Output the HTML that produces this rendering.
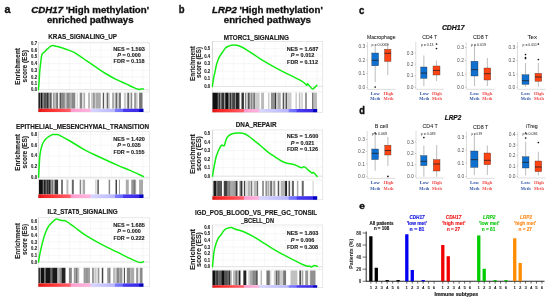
<!DOCTYPE html><html><head><meta charset="utf-8"><style>html,body{margin:0;padding:0;background:#fff;}svg{display:block;will-change:transform;}</style></head><body>
<svg width="550" height="300" viewBox="0 0 550 300" font-family='"Liberation Sans", sans-serif'>
<rect x="0" y="0" width="550" height="300" fill="#fff"/>
<defs>
<linearGradient id="cbA" x1="0" y1="0" x2="1" y2="0">
<stop offset="0" stop-color="#d81010"/><stop offset="0.04" stop-color="#f02020"/>
<stop offset="0.155" stop-color="#ff3838"/><stop offset="0.305" stop-color="#ff6070"/>
<stop offset="0.310" stop-color="#ff9ccc"/><stop offset="0.495" stop-color="#ffb4e0"/>
<stop offset="0.500" stop-color="#d8d6ff"/><stop offset="0.725" stop-color="#b8b6ff"/>
<stop offset="0.730" stop-color="#7c7cff"/><stop offset="0.801" stop-color="#6c6cff"/><stop offset="0.806" stop-color="#4a3cf0"/>
<stop offset="0.955" stop-color="#3a28e6"/><stop offset="0.965" stop-color="#0800c8"/><stop offset="1" stop-color="#0000b8"/>
</linearGradient>
<linearGradient id="cbB" x1="0" y1="0" x2="1" y2="0">
<stop offset="0" stop-color="#d81010"/><stop offset="0.04" stop-color="#f02020"/>
<stop offset="0.152" stop-color="#ff3838"/><stop offset="0.299" stop-color="#ff6070"/>
<stop offset="0.304" stop-color="#ff9ccc"/><stop offset="0.445" stop-color="#ffb4e0"/>
<stop offset="0.450" stop-color="#d8d6ff"/><stop offset="0.725" stop-color="#b8b6ff"/>
<stop offset="0.730" stop-color="#7c7cff"/><stop offset="0.801" stop-color="#6c6cff"/><stop offset="0.806" stop-color="#4a3cf0"/>
<stop offset="0.955" stop-color="#3a28e6"/><stop offset="0.965" stop-color="#0800c8"/><stop offset="1" stop-color="#0000b8"/>
</linearGradient>
</defs>
<text x="7.40" y="12.90" font-size="10.5" fill="#111" text-anchor="middle" font-weight="bold" textLength="6.00" lengthAdjust="spacingAndGlyphs" stroke="#111" stroke-width="0.35">a</text>
<text x="90.15" y="12.9" font-size="8.8" font-weight="bold" fill="#111" stroke="#111" stroke-width="0.3" text-anchor="middle" textLength="117.7" lengthAdjust="spacingAndGlyphs"><tspan font-style="italic">CDH17</tspan> 'High methylation'</text>
<text x="90.25" y="22.90" font-size="8.8" fill="#111" text-anchor="middle" font-weight="bold" textLength="86.50" lengthAdjust="spacingAndGlyphs" stroke="#111" stroke-width="0.3">enriched pathways</text>
<text x="181.60" y="12.90" font-size="10.5" fill="#111" text-anchor="middle" font-weight="bold" textLength="5.80" lengthAdjust="spacingAndGlyphs" stroke="#111" stroke-width="0.35">b</text>
<text x="267.35" y="12.9" font-size="8.8" font-weight="bold" fill="#111" stroke="#111" stroke-width="0.3" text-anchor="middle" textLength="110.7" lengthAdjust="spacingAndGlyphs"><tspan font-style="italic">LRP2</tspan> 'High methylation'</text>
<text x="267.40" y="22.90" font-size="8.8" fill="#111" text-anchor="middle" font-weight="bold" textLength="87.20" lengthAdjust="spacingAndGlyphs" stroke="#111" stroke-width="0.3">enriched pathways</text>
<rect x="38.30" y="42.20" width="111.20" height="69.80" fill="#fff" stroke="#d9d9d9" stroke-width="0.6"/>
<line x1="38.30" y1="43.30" x2="149.50" y2="43.30" stroke="#efefef" stroke-width="0.5"/>
<line x1="38.30" y1="50.00" x2="149.50" y2="50.00" stroke="#efefef" stroke-width="0.5"/>
<line x1="38.30" y1="56.80" x2="149.50" y2="56.80" stroke="#efefef" stroke-width="0.5"/>
<line x1="38.30" y1="63.60" x2="149.50" y2="63.60" stroke="#efefef" stroke-width="0.5"/>
<line x1="38.30" y1="70.30" x2="149.50" y2="70.30" stroke="#efefef" stroke-width="0.5"/>
<line x1="38.30" y1="76.90" x2="149.50" y2="76.90" stroke="#efefef" stroke-width="0.5"/>
<line x1="38.30" y1="83.20" x2="149.50" y2="83.20" stroke="#efefef" stroke-width="0.5"/>
<line x1="38.30" y1="89.70" x2="149.50" y2="89.70" stroke="#efefef" stroke-width="0.5"/>
<line x1="48.75" y1="42.20" x2="48.75" y2="89.70" stroke="#efefef" stroke-width="0.5"/>
<line x1="59.20" y1="42.20" x2="59.20" y2="89.70" stroke="#efefef" stroke-width="0.5"/>
<line x1="69.65" y1="42.20" x2="69.65" y2="89.70" stroke="#efefef" stroke-width="0.5"/>
<line x1="80.10" y1="42.20" x2="80.10" y2="89.70" stroke="#efefef" stroke-width="0.5"/>
<line x1="90.55" y1="42.20" x2="90.55" y2="89.70" stroke="#efefef" stroke-width="0.5"/>
<line x1="101.00" y1="42.20" x2="101.00" y2="89.70" stroke="#efefef" stroke-width="0.5"/>
<line x1="111.45" y1="42.20" x2="111.45" y2="89.70" stroke="#efefef" stroke-width="0.5"/>
<line x1="121.90" y1="42.20" x2="121.90" y2="89.70" stroke="#efefef" stroke-width="0.5"/>
<line x1="132.35" y1="42.20" x2="132.35" y2="89.70" stroke="#efefef" stroke-width="0.5"/>
<line x1="142.80" y1="42.20" x2="142.80" y2="89.70" stroke="#efefef" stroke-width="0.5"/>
<line x1="38.30" y1="42.20" x2="38.30" y2="90.00" stroke="#c8c8c8" stroke-width="0.6"/>
<line x1="38.30" y1="89.70" x2="149.50" y2="89.70" stroke="#d4d4d4" stroke-width="0.6"/>
<line x1="38.30" y1="91.90" x2="149.50" y2="91.90" stroke="#e2e2e2" stroke-width="0.5"/>
<text x="37.00" y="44.90" font-size="4.6" fill="#262626" text-anchor="end" font-weight="bold" textLength="5.90" lengthAdjust="spacingAndGlyphs" stroke="#262626" stroke-width="0.1">0.7</text>
<text x="37.00" y="51.60" font-size="4.6" fill="#262626" text-anchor="end" font-weight="bold" textLength="5.90" lengthAdjust="spacingAndGlyphs" stroke="#262626" stroke-width="0.1">0.6</text>
<text x="37.00" y="58.40" font-size="4.6" fill="#262626" text-anchor="end" font-weight="bold" textLength="5.90" lengthAdjust="spacingAndGlyphs" stroke="#262626" stroke-width="0.1">0.5</text>
<text x="37.00" y="65.20" font-size="4.6" fill="#262626" text-anchor="end" font-weight="bold" textLength="5.90" lengthAdjust="spacingAndGlyphs" stroke="#262626" stroke-width="0.1">0.4</text>
<text x="37.00" y="71.90" font-size="4.6" fill="#262626" text-anchor="end" font-weight="bold" textLength="5.90" lengthAdjust="spacingAndGlyphs" stroke="#262626" stroke-width="0.1">0.3</text>
<text x="37.00" y="78.50" font-size="4.6" fill="#262626" text-anchor="end" font-weight="bold" textLength="5.90" lengthAdjust="spacingAndGlyphs" stroke="#262626" stroke-width="0.1">0.2</text>
<text x="37.00" y="84.80" font-size="4.6" fill="#262626" text-anchor="end" font-weight="bold" textLength="5.90" lengthAdjust="spacingAndGlyphs" stroke="#262626" stroke-width="0.1">0.1</text>
<text x="37.00" y="91.30" font-size="4.6" fill="#262626" text-anchor="end" font-weight="bold" textLength="5.90" lengthAdjust="spacingAndGlyphs" stroke="#262626" stroke-width="0.1">0.0</text>
<rect x="38.47" y="92.70" width="1.47" height="16.00" fill="#111"/>
<rect x="39.94" y="92.70" width="0.79" height="16.00" fill="#888"/>
<rect x="40.73" y="92.70" width="1.96" height="16.00" fill="#111"/>
<rect x="42.69" y="92.70" width="0.69" height="16.00" fill="#888"/>
<rect x="43.38" y="92.70" width="3.43" height="16.00" fill="#555"/>
<rect x="46.81" y="92.70" width="1.96" height="16.00" fill="#333"/>
<rect x="48.78" y="92.70" width="1.47" height="16.00" fill="#999"/>
<rect x="50.25" y="92.70" width="1.47" height="16.00" fill="#333"/>
<rect x="51.72" y="92.70" width="1.47" height="16.00" fill="#eee"/>
<rect x="53.19" y="92.70" width="1.47" height="16.00" fill="#888"/>
<rect x="54.66" y="92.70" width="1.47" height="16.00" fill="#bbb"/>
<rect x="56.14" y="92.70" width="1.96" height="16.00" fill="#777"/>
<rect x="59.57" y="92.70" width="1.47" height="16.00" fill="#555"/>
<rect x="61.04" y="92.70" width="2.94" height="16.00" fill="#888"/>
<rect x="64.00" y="92.70" width="1.47" height="16.00" fill="#999"/>
<rect x="65.47" y="92.70" width="0.98" height="16.00" fill="#bbb"/>
<rect x="66.45" y="92.70" width="3.43" height="16.00" fill="#888"/>
<rect x="69.89" y="92.70" width="1.47" height="16.00" fill="#aaa"/>
<rect x="71.36" y="92.70" width="3.93" height="16.00" fill="#888"/>
<rect x="76.76" y="92.70" width="0.98" height="16.00" fill="#ccc"/>
<rect x="79.70" y="92.70" width="2.45" height="16.00" fill="#888"/>
<rect x="82.16" y="92.70" width="1.47" height="16.00" fill="#ddd"/>
<rect x="83.63" y="92.70" width="1.47" height="16.00" fill="#aaa"/>
<rect x="88.04" y="92.70" width="1.96" height="16.00" fill="#bbb"/>
<rect x="91.00" y="92.70" width="1.96" height="16.00" fill="#ccc"/>
<rect x="92.96" y="92.70" width="1.96" height="16.00" fill="#999"/>
<rect x="94.93" y="92.70" width="0.98" height="16.00" fill="#ccc"/>
<rect x="95.91" y="92.70" width="4.91" height="16.00" fill="#aaa"/>
<rect x="102.78" y="92.70" width="1.47" height="16.00" fill="#555"/>
<rect x="104.25" y="92.70" width="2.45" height="16.00" fill="#eee"/>
<rect x="106.70" y="92.70" width="1.47" height="16.00" fill="#666"/>
<rect x="108.17" y="92.70" width="1.47" height="16.00" fill="#bbb"/>
<rect x="112.10" y="92.70" width="1.96" height="16.00" fill="#aaa"/>
<rect x="114.06" y="92.70" width="1.47" height="16.00" fill="#ddd"/>
<rect x="115.53" y="92.70" width="1.96" height="16.00" fill="#666"/>
<rect x="117.50" y="92.70" width="1.47" height="16.00" fill="#ccc"/>
<rect x="118.97" y="92.70" width="1.96" height="16.00" fill="#777"/>
<rect x="123.88" y="92.70" width="2.45" height="16.00" fill="#ccc"/>
<rect x="127.31" y="92.70" width="1.96" height="16.00" fill="#666"/>
<rect x="129.27" y="92.70" width="1.47" height="16.00" fill="#ddd"/>
<rect x="130.74" y="92.70" width="1.47" height="16.00" fill="#888"/>
<rect x="134.18" y="92.70" width="2.45" height="16.00" fill="#999"/>
<rect x="136.63" y="92.70" width="1.47" height="16.00" fill="#ddd"/>
<rect x="139.09" y="92.70" width="3.43" height="16.00" fill="#777"/>
<rect x="38.30" y="108.70" width="105.20" height="3.30" fill="url(#cbA)"/>
<path d="M38.50,89.70 C38.64,87.76 38.94,83.78 39.20,80.00 C39.46,76.22 39.46,74.60 39.80,70.80 C40.14,67.00 40.46,64.28 40.90,61.00 C41.34,57.72 41.34,56.16 42.00,54.40 C42.66,52.64 43.10,53.30 44.20,52.20 C45.30,51.10 45.98,50.22 47.50,48.90 C49.02,47.58 50.28,46.16 51.80,45.60 C53.32,45.04 53.78,45.88 55.10,46.10 C56.42,46.32 56.22,46.08 58.40,46.70 C60.58,47.32 62.94,48.10 66.00,49.20 C69.06,50.30 70.90,50.80 73.70,52.20 C76.50,53.60 77.38,54.46 80.00,56.20 C82.62,57.94 83.60,58.70 86.80,60.90 C90.00,63.10 92.08,64.58 96.00,67.20 C99.92,69.82 102.40,71.56 106.40,74.00 C110.40,76.44 112.06,77.42 116.00,79.40 C119.94,81.38 122.90,82.42 126.10,83.90 C129.30,85.38 129.60,85.72 132.00,86.80 C134.40,87.88 136.30,88.84 138.10,89.30 C139.90,89.76 139.92,89.18 141.00,89.10 C142.08,89.02 143.00,88.94 143.50,88.90" fill="none" stroke="#12ee12" stroke-width="1.5" stroke-linejoin="round" stroke-linecap="round"/>
<text x="129.05" y="51.00" font-size="5.9" fill="#1e1e1e" text-anchor="middle" font-weight="bold" textLength="31.70" lengthAdjust="spacingAndGlyphs" stroke="#1e1e1e" stroke-width="0.12">NES = 1.593</text>
<text x="129.05" y="57.20" font-size="5.9" font-weight="bold" fill="#1e1e1e" stroke="#1e1e1e" stroke-width="0.12" text-anchor="middle" textLength="23.70" lengthAdjust="spacingAndGlyphs"><tspan style="font-style:italic">P</tspan> = 0.000</text>
<text x="129.05" y="63.30" font-size="5.9" fill="#1e1e1e" text-anchor="middle" font-weight="bold" textLength="30.90" lengthAdjust="spacingAndGlyphs" stroke="#1e1e1e" stroke-width="0.12">FDR = 0.118</text>
<text x="82.65" y="39.40" font-size="6.8" fill="#1a1a1a" text-anchor="middle" font-weight="bold" textLength="68.70" lengthAdjust="spacingAndGlyphs" stroke="#1a1a1a" stroke-width="0.15">KRAS_SIGNALING_UP</text>
<text x="19.50" y="66.50" font-size="6.6" fill="#262626" text-anchor="middle" font-weight="bold" textLength="37.00" lengthAdjust="spacingAndGlyphs" transform="rotate(-90 19.50 66.50)" stroke="#262626" stroke-width="0.12">Enrichment</text>
<text x="26.80" y="66.20" font-size="6.6" fill="#262626" text-anchor="middle" font-weight="bold" textLength="32.40" lengthAdjust="spacingAndGlyphs" transform="rotate(-90 26.80 66.20)" stroke="#262626" stroke-width="0.12">score (ES)</text>
<rect x="38.30" y="131.80" width="111.20" height="66.20" fill="#fff" stroke="#d9d9d9" stroke-width="0.6"/>
<line x1="38.30" y1="134.50" x2="149.50" y2="134.50" stroke="#efefef" stroke-width="0.5"/>
<line x1="38.30" y1="145.20" x2="149.50" y2="145.20" stroke="#efefef" stroke-width="0.5"/>
<line x1="38.30" y1="155.80" x2="149.50" y2="155.80" stroke="#efefef" stroke-width="0.5"/>
<line x1="38.30" y1="166.50" x2="149.50" y2="166.50" stroke="#efefef" stroke-width="0.5"/>
<line x1="38.30" y1="177.30" x2="149.50" y2="177.30" stroke="#efefef" stroke-width="0.5"/>
<line x1="48.75" y1="131.80" x2="48.75" y2="177.30" stroke="#efefef" stroke-width="0.5"/>
<line x1="59.20" y1="131.80" x2="59.20" y2="177.30" stroke="#efefef" stroke-width="0.5"/>
<line x1="69.65" y1="131.80" x2="69.65" y2="177.30" stroke="#efefef" stroke-width="0.5"/>
<line x1="80.10" y1="131.80" x2="80.10" y2="177.30" stroke="#efefef" stroke-width="0.5"/>
<line x1="90.55" y1="131.80" x2="90.55" y2="177.30" stroke="#efefef" stroke-width="0.5"/>
<line x1="101.00" y1="131.80" x2="101.00" y2="177.30" stroke="#efefef" stroke-width="0.5"/>
<line x1="111.45" y1="131.80" x2="111.45" y2="177.30" stroke="#efefef" stroke-width="0.5"/>
<line x1="121.90" y1="131.80" x2="121.90" y2="177.30" stroke="#efefef" stroke-width="0.5"/>
<line x1="132.35" y1="131.80" x2="132.35" y2="177.30" stroke="#efefef" stroke-width="0.5"/>
<line x1="142.80" y1="131.80" x2="142.80" y2="177.30" stroke="#efefef" stroke-width="0.5"/>
<line x1="38.30" y1="131.80" x2="38.30" y2="177.60" stroke="#c8c8c8" stroke-width="0.6"/>
<line x1="38.30" y1="177.30" x2="149.50" y2="177.30" stroke="#d4d4d4" stroke-width="0.6"/>
<line x1="38.30" y1="178.90" x2="149.50" y2="178.90" stroke="#e2e2e2" stroke-width="0.5"/>
<text x="37.00" y="136.10" font-size="4.6" fill="#262626" text-anchor="end" font-weight="bold" textLength="5.90" lengthAdjust="spacingAndGlyphs" stroke="#262626" stroke-width="0.1">0.8</text>
<text x="37.00" y="146.80" font-size="4.6" fill="#262626" text-anchor="end" font-weight="bold" textLength="5.90" lengthAdjust="spacingAndGlyphs" stroke="#262626" stroke-width="0.1">0.6</text>
<text x="37.00" y="157.40" font-size="4.6" fill="#262626" text-anchor="end" font-weight="bold" textLength="5.90" lengthAdjust="spacingAndGlyphs" stroke="#262626" stroke-width="0.1">0.4</text>
<text x="37.00" y="168.10" font-size="4.6" fill="#262626" text-anchor="end" font-weight="bold" textLength="5.90" lengthAdjust="spacingAndGlyphs" stroke="#262626" stroke-width="0.1">0.2</text>
<text x="37.00" y="178.90" font-size="4.6" fill="#262626" text-anchor="end" font-weight="bold" textLength="5.90" lengthAdjust="spacingAndGlyphs" stroke="#262626" stroke-width="0.1">0.0</text>
<rect x="38.96" y="179.70" width="3.93" height="14.70" fill="#111"/>
<rect x="42.89" y="179.70" width="0.98" height="14.70" fill="#666"/>
<rect x="43.87" y="179.70" width="1.96" height="14.70" fill="#222"/>
<rect x="45.83" y="179.70" width="0.98" height="14.70" fill="#555"/>
<rect x="46.81" y="179.70" width="1.96" height="14.70" fill="#333"/>
<rect x="48.78" y="179.70" width="1.96" height="14.70" fill="#222"/>
<rect x="50.74" y="179.70" width="0.98" height="14.70" fill="#888"/>
<rect x="51.72" y="179.70" width="1.47" height="14.70" fill="#777"/>
<rect x="53.19" y="179.70" width="1.47" height="14.70" fill="#aaa"/>
<rect x="54.66" y="179.70" width="3.43" height="14.70" fill="#333"/>
<rect x="61.04" y="179.70" width="1.96" height="14.70" fill="#777"/>
<rect x="66.44" y="179.70" width="1.96" height="14.70" fill="#bbb"/>
<rect x="71.84" y="179.70" width="1.96" height="14.70" fill="#666"/>
<rect x="79.69" y="179.70" width="1.47" height="14.70" fill="#888"/>
<rect x="82.63" y="179.70" width="2.45" height="14.70" fill="#aaa"/>
<rect x="95.40" y="179.70" width="0.98" height="14.70" fill="#bbb"/>
<rect x="97.36" y="179.70" width="1.47" height="14.70" fill="#555"/>
<rect x="108.65" y="179.70" width="1.47" height="14.70" fill="#888"/>
<rect x="115.52" y="179.70" width="1.47" height="14.70" fill="#444"/>
<rect x="118.95" y="179.70" width="0.98" height="14.70" fill="#999"/>
<rect x="125.82" y="179.70" width="2.94" height="14.70" fill="#aaa"/>
<rect x="131.22" y="179.70" width="1.96" height="14.70" fill="#999"/>
<rect x="133.18" y="179.70" width="1.96" height="14.70" fill="#777"/>
<rect x="135.14" y="179.70" width="0.98" height="14.70" fill="#999"/>
<rect x="139.07" y="179.70" width="3.93" height="14.70" fill="#aaa"/>
<rect x="38.30" y="194.40" width="105.20" height="3.60" fill="url(#cbA)"/>
<path d="M38.60,177.30 C38.72,175.04 38.96,170.18 39.20,166.00 C39.44,161.82 39.48,159.60 39.80,156.40 C40.12,153.20 40.36,152.18 40.80,150.00 C41.24,147.82 41.46,147.10 42.00,145.50 C42.54,143.90 42.84,143.22 43.50,142.00 C44.16,140.78 44.52,140.30 45.30,139.40 C46.08,138.50 46.52,138.16 47.40,137.50 C48.28,136.84 48.60,136.68 49.70,136.10 C50.80,135.52 51.38,134.90 52.90,134.60 C54.42,134.30 55.88,134.40 57.30,134.60 C58.72,134.80 57.46,134.32 60.00,135.60 C62.54,136.88 65.08,138.16 70.00,141.00 C74.92,143.84 78.60,146.56 84.60,149.80 C90.60,153.04 93.46,154.14 100.00,157.20 C106.54,160.26 111.30,162.46 117.30,165.10 C123.30,167.74 124.76,168.10 130.00,170.40 C135.24,172.70 140.80,175.36 143.50,176.60" fill="none" stroke="#12ee12" stroke-width="1.5" stroke-linejoin="round" stroke-linecap="round"/>
<text x="129.05" y="140.50" font-size="5.9" fill="#1e1e1e" text-anchor="middle" font-weight="bold" textLength="31.70" lengthAdjust="spacingAndGlyphs" stroke="#1e1e1e" stroke-width="0.12">NES = 1.420</text>
<text x="129.05" y="147.10" font-size="5.9" font-weight="bold" fill="#1e1e1e" stroke="#1e1e1e" stroke-width="0.12" text-anchor="middle" textLength="23.70" lengthAdjust="spacingAndGlyphs"><tspan style="font-style:italic">P</tspan> = 0.035</text>
<text x="129.05" y="153.50" font-size="5.9" fill="#1e1e1e" text-anchor="middle" font-weight="bold" textLength="30.90" lengthAdjust="spacingAndGlyphs" stroke="#1e1e1e" stroke-width="0.12">FDR = 0.155</text>
<text x="82.50" y="128.80" font-size="6.8" fill="#1a1a1a" text-anchor="middle" font-weight="bold" textLength="133.00" lengthAdjust="spacingAndGlyphs" stroke="#1a1a1a" stroke-width="0.15">EPITHELIAL_MESENCHYMAL_TRANSITION</text>
<text x="19.50" y="152.50" font-size="6.6" fill="#262626" text-anchor="middle" font-weight="bold" textLength="37.00" lengthAdjust="spacingAndGlyphs" transform="rotate(-90 19.50 152.50)" stroke="#262626" stroke-width="0.12">Enrichment</text>
<text x="26.80" y="152.20" font-size="6.6" fill="#262626" text-anchor="middle" font-weight="bold" textLength="32.40" lengthAdjust="spacingAndGlyphs" transform="rotate(-90 26.80 152.20)" stroke="#262626" stroke-width="0.12">score (ES)</text>
<rect x="38.30" y="217.80" width="111.20" height="69.00" fill="#fff" stroke="#d9d9d9" stroke-width="0.6"/>
<line x1="38.30" y1="221.80" x2="149.50" y2="221.80" stroke="#efefef" stroke-width="0.5"/>
<line x1="38.30" y1="228.50" x2="149.50" y2="228.50" stroke="#efefef" stroke-width="0.5"/>
<line x1="38.30" y1="235.20" x2="149.50" y2="235.20" stroke="#efefef" stroke-width="0.5"/>
<line x1="38.30" y1="241.90" x2="149.50" y2="241.90" stroke="#efefef" stroke-width="0.5"/>
<line x1="38.30" y1="248.60" x2="149.50" y2="248.60" stroke="#efefef" stroke-width="0.5"/>
<line x1="38.30" y1="255.30" x2="149.50" y2="255.30" stroke="#efefef" stroke-width="0.5"/>
<line x1="38.30" y1="262.00" x2="149.50" y2="262.00" stroke="#efefef" stroke-width="0.5"/>
<line x1="48.75" y1="217.80" x2="48.75" y2="262.00" stroke="#efefef" stroke-width="0.5"/>
<line x1="59.20" y1="217.80" x2="59.20" y2="262.00" stroke="#efefef" stroke-width="0.5"/>
<line x1="69.65" y1="217.80" x2="69.65" y2="262.00" stroke="#efefef" stroke-width="0.5"/>
<line x1="80.10" y1="217.80" x2="80.10" y2="262.00" stroke="#efefef" stroke-width="0.5"/>
<line x1="90.55" y1="217.80" x2="90.55" y2="262.00" stroke="#efefef" stroke-width="0.5"/>
<line x1="101.00" y1="217.80" x2="101.00" y2="262.00" stroke="#efefef" stroke-width="0.5"/>
<line x1="111.45" y1="217.80" x2="111.45" y2="262.00" stroke="#efefef" stroke-width="0.5"/>
<line x1="121.90" y1="217.80" x2="121.90" y2="262.00" stroke="#efefef" stroke-width="0.5"/>
<line x1="132.35" y1="217.80" x2="132.35" y2="262.00" stroke="#efefef" stroke-width="0.5"/>
<line x1="142.80" y1="217.80" x2="142.80" y2="262.00" stroke="#efefef" stroke-width="0.5"/>
<line x1="38.30" y1="217.80" x2="38.30" y2="262.30" stroke="#c8c8c8" stroke-width="0.6"/>
<line x1="38.30" y1="262.00" x2="149.50" y2="262.00" stroke="#d4d4d4" stroke-width="0.6"/>
<line x1="38.30" y1="267.00" x2="149.50" y2="267.00" stroke="#e2e2e2" stroke-width="0.5"/>
<text x="37.00" y="223.40" font-size="4.6" fill="#262626" text-anchor="end" font-weight="bold" textLength="5.90" lengthAdjust="spacingAndGlyphs" stroke="#262626" stroke-width="0.1">0.6</text>
<text x="37.00" y="230.10" font-size="4.6" fill="#262626" text-anchor="end" font-weight="bold" textLength="5.90" lengthAdjust="spacingAndGlyphs" stroke="#262626" stroke-width="0.1">0.5</text>
<text x="37.00" y="236.80" font-size="4.6" fill="#262626" text-anchor="end" font-weight="bold" textLength="5.90" lengthAdjust="spacingAndGlyphs" stroke="#262626" stroke-width="0.1">0.4</text>
<text x="37.00" y="243.50" font-size="4.6" fill="#262626" text-anchor="end" font-weight="bold" textLength="5.90" lengthAdjust="spacingAndGlyphs" stroke="#262626" stroke-width="0.1">0.3</text>
<text x="37.00" y="250.20" font-size="4.6" fill="#262626" text-anchor="end" font-weight="bold" textLength="5.90" lengthAdjust="spacingAndGlyphs" stroke="#262626" stroke-width="0.1">0.2</text>
<text x="37.00" y="256.90" font-size="4.6" fill="#262626" text-anchor="end" font-weight="bold" textLength="5.90" lengthAdjust="spacingAndGlyphs" stroke="#262626" stroke-width="0.1">0.1</text>
<text x="37.00" y="263.60" font-size="4.6" fill="#262626" text-anchor="end" font-weight="bold" textLength="5.90" lengthAdjust="spacingAndGlyphs" stroke="#262626" stroke-width="0.1">0.0</text>
<rect x="38.47" y="267.80" width="1.47" height="15.60" fill="#222"/>
<rect x="39.94" y="267.80" width="0.98" height="15.60" fill="#888"/>
<rect x="40.93" y="267.80" width="3.43" height="15.60" fill="#111"/>
<rect x="44.36" y="267.80" width="1.47" height="15.60" fill="#555"/>
<rect x="45.83" y="267.80" width="4.91" height="15.60" fill="#161616"/>
<rect x="50.74" y="267.80" width="1.47" height="15.60" fill="#666"/>
<rect x="52.21" y="267.80" width="4.91" height="15.60" fill="#1a1a1a"/>
<rect x="57.12" y="267.80" width="1.47" height="15.60" fill="#999"/>
<rect x="58.59" y="267.80" width="1.47" height="15.60" fill="#aaa"/>
<rect x="60.06" y="267.80" width="1.47" height="15.60" fill="#888"/>
<rect x="61.53" y="267.80" width="3.93" height="15.60" fill="#222"/>
<rect x="68.89" y="267.80" width="2.94" height="15.60" fill="#888"/>
<rect x="73.80" y="267.80" width="1.96" height="15.60" fill="#999"/>
<rect x="75.76" y="267.80" width="1.96" height="15.60" fill="#777"/>
<rect x="77.73" y="267.80" width="1.47" height="15.60" fill="#bbb"/>
<rect x="83.61" y="267.80" width="1.47" height="15.60" fill="#999"/>
<rect x="85.09" y="267.80" width="2.94" height="15.60" fill="#959595"/>
<rect x="88.03" y="267.80" width="1.96" height="15.60" fill="#a0a0a0"/>
<rect x="91.98" y="267.80" width="1.96" height="15.60" fill="#999"/>
<rect x="93.94" y="267.80" width="1.47" height="15.60" fill="#ddd"/>
<rect x="95.42" y="267.80" width="0.98" height="15.60" fill="#aaa"/>
<rect x="96.40" y="267.80" width="1.47" height="15.60" fill="#ddd"/>
<rect x="97.87" y="267.80" width="1.47" height="15.60" fill="#999"/>
<rect x="101.79" y="267.80" width="1.47" height="15.60" fill="#444"/>
<rect x="107.19" y="267.80" width="0.98" height="15.60" fill="#999"/>
<rect x="108.17" y="267.80" width="1.96" height="15.60" fill="#888"/>
<rect x="110.14" y="267.80" width="0.49" height="15.60" fill="#999"/>
<rect x="113.08" y="267.80" width="1.96" height="15.60" fill="#bbb"/>
<rect x="115.04" y="267.80" width="1.47" height="15.60" fill="#ccc"/>
<rect x="116.52" y="267.80" width="2.94" height="15.60" fill="#888"/>
<rect x="119.46" y="267.80" width="2.94" height="15.60" fill="#999"/>
<rect x="123.88" y="267.80" width="0.98" height="15.60" fill="#333"/>
<rect x="126.82" y="267.80" width="3.43" height="15.60" fill="#888"/>
<rect x="130.25" y="267.80" width="3.93" height="15.60" fill="#aaa"/>
<rect x="136.14" y="267.80" width="1.96" height="15.60" fill="#999"/>
<rect x="138.11" y="267.80" width="1.96" height="15.60" fill="#ddd"/>
<rect x="140.07" y="267.80" width="2.45" height="15.60" fill="#888"/>
<rect x="38.30" y="283.40" width="105.20" height="3.40" fill="url(#cbA)"/>
<path d="M38.50,262.00 C38.76,260.48 39.22,257.40 39.80,254.40 C40.38,251.40 40.74,249.84 41.40,247.00 C42.06,244.16 42.34,242.90 43.10,240.20 C43.86,237.50 44.32,235.90 45.20,233.50 C46.08,231.10 46.62,229.90 47.50,228.20 C48.38,226.50 48.74,226.10 49.60,225.00 C50.46,223.90 50.92,223.58 51.80,222.70 C52.68,221.82 53.04,221.34 54.00,220.60 C54.96,219.86 55.50,219.12 56.60,219.00 C57.70,218.88 58.26,219.68 59.50,220.00 C60.74,220.32 61.50,220.36 62.80,220.60 C64.10,220.84 63.56,219.82 66.00,221.20 C68.44,222.58 71.28,224.80 75.00,227.50 C78.72,230.20 79.60,231.48 84.60,234.70 C89.60,237.92 93.46,240.10 100.00,243.60 C106.54,247.10 111.70,249.40 117.30,252.20 C122.90,255.00 124.06,255.72 128.00,257.60 C131.94,259.48 134.32,260.62 137.00,261.60 C139.68,262.58 140.10,262.50 141.40,262.50 C142.70,262.50 143.08,261.78 143.50,261.60" fill="none" stroke="#12ee12" stroke-width="1.5" stroke-linejoin="round" stroke-linecap="round"/>
<text x="129.05" y="226.80" font-size="5.9" fill="#1e1e1e" text-anchor="middle" font-weight="bold" textLength="31.70" lengthAdjust="spacingAndGlyphs" stroke="#1e1e1e" stroke-width="0.12">NES = 1.685</text>
<text x="129.05" y="233.40" font-size="5.9" font-weight="bold" fill="#1e1e1e" stroke="#1e1e1e" stroke-width="0.12" text-anchor="middle" textLength="23.70" lengthAdjust="spacingAndGlyphs"><tspan style="font-style:italic">P</tspan> = 0.000</text>
<text x="129.05" y="240.00" font-size="5.9" fill="#1e1e1e" text-anchor="middle" font-weight="bold" textLength="30.90" lengthAdjust="spacingAndGlyphs" stroke="#1e1e1e" stroke-width="0.12">FDR = 0.222</text>
<text x="82.60" y="213.80" font-size="6.8" fill="#1a1a1a" text-anchor="middle" font-weight="bold" textLength="70.00" lengthAdjust="spacingAndGlyphs" stroke="#1a1a1a" stroke-width="0.15">IL2_STAT5_SIGNALING</text>
<text x="19.50" y="241.00" font-size="6.6" fill="#262626" text-anchor="middle" font-weight="bold" textLength="36.00" lengthAdjust="spacingAndGlyphs" transform="rotate(-90 19.50 241.00)" stroke="#262626" stroke-width="0.12">Enrichment</text>
<text x="26.80" y="239.50" font-size="6.6" fill="#262626" text-anchor="middle" font-weight="bold" textLength="31.00" lengthAdjust="spacingAndGlyphs" transform="rotate(-90 26.80 239.50)" stroke="#262626" stroke-width="0.12">score (ES)</text>
<rect x="212.40" y="41.60" width="110.40" height="70.70" fill="#fff" stroke="#d9d9d9" stroke-width="0.6"/>
<line x1="212.40" y1="48.40" x2="322.80" y2="48.40" stroke="#efefef" stroke-width="0.5"/>
<line x1="212.40" y1="56.00" x2="322.80" y2="56.00" stroke="#efefef" stroke-width="0.5"/>
<line x1="212.40" y1="63.60" x2="322.80" y2="63.60" stroke="#efefef" stroke-width="0.5"/>
<line x1="212.40" y1="71.20" x2="322.80" y2="71.20" stroke="#efefef" stroke-width="0.5"/>
<line x1="212.40" y1="78.80" x2="322.80" y2="78.80" stroke="#efefef" stroke-width="0.5"/>
<line x1="212.40" y1="86.40" x2="322.80" y2="86.40" stroke="#efefef" stroke-width="0.5"/>
<line x1="222.85" y1="41.60" x2="222.85" y2="86.40" stroke="#efefef" stroke-width="0.5"/>
<line x1="233.30" y1="41.60" x2="233.30" y2="86.40" stroke="#efefef" stroke-width="0.5"/>
<line x1="243.75" y1="41.60" x2="243.75" y2="86.40" stroke="#efefef" stroke-width="0.5"/>
<line x1="254.20" y1="41.60" x2="254.20" y2="86.40" stroke="#efefef" stroke-width="0.5"/>
<line x1="264.65" y1="41.60" x2="264.65" y2="86.40" stroke="#efefef" stroke-width="0.5"/>
<line x1="275.10" y1="41.60" x2="275.10" y2="86.40" stroke="#efefef" stroke-width="0.5"/>
<line x1="285.55" y1="41.60" x2="285.55" y2="86.40" stroke="#efefef" stroke-width="0.5"/>
<line x1="296.00" y1="41.60" x2="296.00" y2="86.40" stroke="#efefef" stroke-width="0.5"/>
<line x1="306.45" y1="41.60" x2="306.45" y2="86.40" stroke="#efefef" stroke-width="0.5"/>
<line x1="316.90" y1="41.60" x2="316.90" y2="86.40" stroke="#efefef" stroke-width="0.5"/>
<line x1="212.40" y1="41.60" x2="212.40" y2="86.70" stroke="#c8c8c8" stroke-width="0.6"/>
<line x1="212.40" y1="86.40" x2="322.80" y2="86.40" stroke="#d4d4d4" stroke-width="0.6"/>
<line x1="212.40" y1="91.90" x2="322.80" y2="91.90" stroke="#e2e2e2" stroke-width="0.5"/>
<text x="210.10" y="50.00" font-size="4.6" fill="#262626" text-anchor="end" font-weight="bold" textLength="5.90" lengthAdjust="spacingAndGlyphs" stroke="#262626" stroke-width="0.1">0.5</text>
<text x="210.10" y="57.60" font-size="4.6" fill="#262626" text-anchor="end" font-weight="bold" textLength="5.90" lengthAdjust="spacingAndGlyphs" stroke="#262626" stroke-width="0.1">0.4</text>
<text x="210.10" y="65.20" font-size="4.6" fill="#262626" text-anchor="end" font-weight="bold" textLength="5.90" lengthAdjust="spacingAndGlyphs" stroke="#262626" stroke-width="0.1">0.3</text>
<text x="210.10" y="72.80" font-size="4.6" fill="#262626" text-anchor="end" font-weight="bold" textLength="5.90" lengthAdjust="spacingAndGlyphs" stroke="#262626" stroke-width="0.1">0.2</text>
<text x="210.10" y="80.40" font-size="4.6" fill="#262626" text-anchor="end" font-weight="bold" textLength="5.90" lengthAdjust="spacingAndGlyphs" stroke="#262626" stroke-width="0.1">0.1</text>
<text x="210.10" y="88.00" font-size="4.6" fill="#262626" text-anchor="end" font-weight="bold" textLength="5.90" lengthAdjust="spacingAndGlyphs" stroke="#262626" stroke-width="0.1">0.0</text>
<rect x="212.47" y="92.70" width="5.40" height="16.30" fill="#111"/>
<rect x="217.87" y="92.70" width="0.98" height="16.30" fill="#666"/>
<rect x="218.85" y="92.70" width="1.47" height="16.30" fill="#333"/>
<rect x="220.32" y="92.70" width="0.98" height="16.30" fill="#777"/>
<rect x="221.30" y="92.70" width="2.94" height="16.30" fill="#333"/>
<rect x="224.25" y="92.70" width="0.98" height="16.30" fill="#888"/>
<rect x="225.23" y="92.70" width="3.43" height="16.30" fill="#111"/>
<rect x="228.66" y="92.70" width="0.98" height="16.30" fill="#777"/>
<rect x="229.65" y="92.70" width="1.47" height="16.30" fill="#333"/>
<rect x="231.12" y="92.70" width="0.98" height="16.30" fill="#777"/>
<rect x="232.10" y="92.70" width="2.94" height="16.30" fill="#444"/>
<rect x="235.04" y="92.70" width="0.98" height="16.30" fill="#888"/>
<rect x="236.02" y="92.70" width="2.94" height="16.30" fill="#222"/>
<rect x="238.97" y="92.70" width="1.08" height="16.30" fill="#999"/>
<rect x="241.47" y="92.70" width="2.45" height="16.30" fill="#333"/>
<rect x="244.91" y="92.70" width="1.47" height="16.30" fill="#888"/>
<rect x="246.38" y="92.70" width="1.47" height="16.30" fill="#ccc"/>
<rect x="247.85" y="92.70" width="1.96" height="16.30" fill="#555"/>
<rect x="249.81" y="92.70" width="0.98" height="16.30" fill="#bbb"/>
<rect x="250.79" y="92.70" width="1.47" height="16.30" fill="#888"/>
<rect x="252.27" y="92.70" width="0.98" height="16.30" fill="#aaa"/>
<rect x="253.25" y="92.70" width="1.96" height="16.30" fill="#777"/>
<rect x="255.21" y="92.70" width="4.42" height="16.30" fill="#ccc"/>
<rect x="261.10" y="92.70" width="2.94" height="16.30" fill="#bbb"/>
<rect x="267.96" y="92.70" width="1.47" height="16.30" fill="#ccc"/>
<rect x="270.91" y="92.70" width="3.93" height="16.30" fill="#909090"/>
<rect x="274.83" y="92.70" width="1.47" height="16.30" fill="#333"/>
<rect x="276.30" y="92.70" width="1.47" height="16.30" fill="#ccc"/>
<rect x="277.78" y="92.70" width="2.94" height="16.30" fill="#aaa"/>
<rect x="282.68" y="92.70" width="1.47" height="16.30" fill="#555"/>
<rect x="284.16" y="92.70" width="1.47" height="16.30" fill="#ccc"/>
<rect x="285.63" y="92.70" width="1.47" height="16.30" fill="#555"/>
<rect x="287.10" y="92.70" width="4.42" height="16.30" fill="#ccc"/>
<rect x="295.44" y="92.70" width="1.47" height="16.30" fill="#ccc"/>
<rect x="298.88" y="92.70" width="1.47" height="16.30" fill="#bbb"/>
<rect x="301.33" y="92.70" width="1.47" height="16.30" fill="#ccc"/>
<rect x="305.25" y="92.70" width="1.47" height="16.30" fill="#777"/>
<rect x="312.12" y="92.70" width="1.47" height="16.30" fill="#666"/>
<rect x="313.60" y="92.70" width="3.43" height="16.30" fill="#bbb"/>
<rect x="212.40" y="109.00" width="104.80" height="3.30" fill="url(#cbB)"/>
<path d="M212.40,86.40 C212.64,84.72 213.12,80.70 213.60,78.00 C214.08,75.30 214.26,75.40 214.80,72.90 C215.34,70.40 215.64,68.12 216.30,65.50 C216.96,62.88 217.32,61.78 218.10,59.80 C218.88,57.82 219.32,57.12 220.20,55.60 C221.08,54.08 221.40,53.76 222.50,52.20 C223.60,50.64 224.50,49.00 225.70,47.80 C226.90,46.60 226.96,46.76 228.50,46.20 C230.04,45.64 231.10,44.98 233.40,45.00 C235.70,45.02 236.94,45.08 240.00,46.30 C243.06,47.52 244.34,48.40 248.70,51.10 C253.06,53.80 255.26,55.86 261.80,59.80 C268.34,63.74 273.56,66.64 281.40,70.80 C289.24,74.96 295.98,77.76 301.00,80.60 C306.02,83.44 305.18,84.34 306.50,85.00 C307.82,85.66 306.50,83.16 307.60,83.90 C308.70,84.64 310.72,87.84 312.00,88.70 C313.28,89.56 313.04,88.86 314.00,88.20 C314.96,87.54 316.24,85.96 316.80,85.40" fill="none" stroke="#12ee12" stroke-width="1.5" stroke-linejoin="round" stroke-linecap="round"/>
<text x="302.50" y="50.50" font-size="5.9" fill="#1e1e1e" text-anchor="middle" font-weight="bold" textLength="31.70" lengthAdjust="spacingAndGlyphs" stroke="#1e1e1e" stroke-width="0.12">NES = 1.687</text>
<text x="302.50" y="57.10" font-size="5.9" font-weight="bold" fill="#1e1e1e" stroke="#1e1e1e" stroke-width="0.12" text-anchor="middle" textLength="23.70" lengthAdjust="spacingAndGlyphs"><tspan style="font-style:italic">P</tspan> = 0.012</text>
<text x="302.50" y="63.50" font-size="5.9" fill="#1e1e1e" text-anchor="middle" font-weight="bold" textLength="30.90" lengthAdjust="spacingAndGlyphs" stroke="#1e1e1e" stroke-width="0.12">FDR = 0.112</text>
<text x="256.40" y="39.60" font-size="6.8" fill="#1a1a1a" text-anchor="middle" font-weight="bold" textLength="65.20" lengthAdjust="spacingAndGlyphs" stroke="#1a1a1a" stroke-width="0.15">MTORC1_SIGNALING</text>
<text x="194.50" y="63.50" font-size="6.6" fill="#262626" text-anchor="middle" font-weight="bold" textLength="35.00" lengthAdjust="spacingAndGlyphs" transform="rotate(-90 194.50 63.50)" stroke="#262626" stroke-width="0.12">Enrichment</text>
<text x="201.40" y="62.50" font-size="6.6" fill="#262626" text-anchor="middle" font-weight="bold" textLength="31.00" lengthAdjust="spacingAndGlyphs" transform="rotate(-90 201.40 62.50)" stroke="#262626" stroke-width="0.12">score (ES)</text>
<rect x="212.40" y="130.00" width="110.40" height="69.80" fill="#fff" stroke="#d9d9d9" stroke-width="0.6"/>
<line x1="212.40" y1="133.40" x2="322.80" y2="133.40" stroke="#efefef" stroke-width="0.5"/>
<line x1="212.40" y1="142.00" x2="322.80" y2="142.00" stroke="#efefef" stroke-width="0.5"/>
<line x1="212.40" y1="150.50" x2="322.80" y2="150.50" stroke="#efefef" stroke-width="0.5"/>
<line x1="212.40" y1="159.10" x2="322.80" y2="159.10" stroke="#efefef" stroke-width="0.5"/>
<line x1="212.40" y1="167.60" x2="322.80" y2="167.60" stroke="#efefef" stroke-width="0.5"/>
<line x1="212.40" y1="176.20" x2="322.80" y2="176.20" stroke="#efefef" stroke-width="0.5"/>
<line x1="222.85" y1="130.00" x2="222.85" y2="176.20" stroke="#efefef" stroke-width="0.5"/>
<line x1="233.30" y1="130.00" x2="233.30" y2="176.20" stroke="#efefef" stroke-width="0.5"/>
<line x1="243.75" y1="130.00" x2="243.75" y2="176.20" stroke="#efefef" stroke-width="0.5"/>
<line x1="254.20" y1="130.00" x2="254.20" y2="176.20" stroke="#efefef" stroke-width="0.5"/>
<line x1="264.65" y1="130.00" x2="264.65" y2="176.20" stroke="#efefef" stroke-width="0.5"/>
<line x1="275.10" y1="130.00" x2="275.10" y2="176.20" stroke="#efefef" stroke-width="0.5"/>
<line x1="285.55" y1="130.00" x2="285.55" y2="176.20" stroke="#efefef" stroke-width="0.5"/>
<line x1="296.00" y1="130.00" x2="296.00" y2="176.20" stroke="#efefef" stroke-width="0.5"/>
<line x1="306.45" y1="130.00" x2="306.45" y2="176.20" stroke="#efefef" stroke-width="0.5"/>
<line x1="316.90" y1="130.00" x2="316.90" y2="176.20" stroke="#efefef" stroke-width="0.5"/>
<line x1="212.40" y1="130.00" x2="212.40" y2="176.50" stroke="#c8c8c8" stroke-width="0.6"/>
<line x1="212.40" y1="176.20" x2="322.80" y2="176.20" stroke="#d4d4d4" stroke-width="0.6"/>
<line x1="212.40" y1="180.10" x2="322.80" y2="180.10" stroke="#e2e2e2" stroke-width="0.5"/>
<text x="210.10" y="135.00" font-size="4.6" fill="#262626" text-anchor="end" font-weight="bold" textLength="5.90" lengthAdjust="spacingAndGlyphs" stroke="#262626" stroke-width="0.1">0.5</text>
<text x="210.10" y="143.60" font-size="4.6" fill="#262626" text-anchor="end" font-weight="bold" textLength="5.90" lengthAdjust="spacingAndGlyphs" stroke="#262626" stroke-width="0.1">0.4</text>
<text x="210.10" y="152.10" font-size="4.6" fill="#262626" text-anchor="end" font-weight="bold" textLength="5.90" lengthAdjust="spacingAndGlyphs" stroke="#262626" stroke-width="0.1">0.3</text>
<text x="210.10" y="160.70" font-size="4.6" fill="#262626" text-anchor="end" font-weight="bold" textLength="5.90" lengthAdjust="spacingAndGlyphs" stroke="#262626" stroke-width="0.1">0.2</text>
<text x="210.10" y="169.20" font-size="4.6" fill="#262626" text-anchor="end" font-weight="bold" textLength="5.90" lengthAdjust="spacingAndGlyphs" stroke="#262626" stroke-width="0.1">0.1</text>
<text x="210.10" y="177.80" font-size="4.6" fill="#262626" text-anchor="end" font-weight="bold" textLength="5.90" lengthAdjust="spacingAndGlyphs" stroke="#262626" stroke-width="0.1">0.0</text>
<rect x="212.96" y="180.90" width="0.98" height="15.30" fill="#777"/>
<rect x="213.94" y="180.90" width="2.45" height="15.30" fill="#1a1a1a"/>
<rect x="216.40" y="180.90" width="0.98" height="15.30" fill="#666"/>
<rect x="217.38" y="180.90" width="1.47" height="15.30" fill="#333"/>
<rect x="218.85" y="180.90" width="1.47" height="15.30" fill="#555"/>
<rect x="220.32" y="180.90" width="1.47" height="15.30" fill="#222"/>
<rect x="223.76" y="180.90" width="3.93" height="15.30" fill="#404040"/>
<rect x="227.68" y="180.90" width="1.47" height="15.30" fill="#888"/>
<rect x="229.16" y="180.90" width="1.47" height="15.30" fill="#666"/>
<rect x="230.63" y="180.90" width="1.47" height="15.30" fill="#aaa"/>
<rect x="232.10" y="180.90" width="3.43" height="15.30" fill="#a0a0a0"/>
<rect x="235.53" y="180.90" width="1.96" height="15.30" fill="#333"/>
<rect x="239.46" y="180.90" width="0.98" height="15.30" fill="#888"/>
<rect x="240.44" y="180.90" width="1.96" height="15.30" fill="#333"/>
<rect x="243.88" y="180.90" width="1.47" height="15.30" fill="#444"/>
<rect x="245.35" y="180.90" width="2.94" height="15.30" fill="#ddd"/>
<rect x="248.29" y="180.90" width="1.47" height="15.30" fill="#999"/>
<rect x="249.76" y="180.90" width="1.47" height="15.30" fill="#ccc"/>
<rect x="251.24" y="180.90" width="0.98" height="15.30" fill="#555"/>
<rect x="253.69" y="180.90" width="3.43" height="15.30" fill="#bbb"/>
<rect x="257.12" y="180.90" width="0.98" height="15.30" fill="#555"/>
<rect x="262.03" y="180.90" width="1.96" height="15.30" fill="#999"/>
<rect x="265.47" y="180.90" width="1.47" height="15.30" fill="#888"/>
<rect x="266.94" y="180.90" width="0.98" height="15.30" fill="#ccc"/>
<rect x="267.93" y="180.90" width="1.47" height="15.30" fill="#aaa"/>
<rect x="269.40" y="180.90" width="0.98" height="15.30" fill="#ddd"/>
<rect x="270.38" y="180.90" width="1.47" height="15.30" fill="#444"/>
<rect x="271.85" y="180.90" width="1.47" height="15.30" fill="#ddd"/>
<rect x="273.32" y="180.90" width="1.96" height="15.30" fill="#999"/>
<rect x="277.74" y="180.90" width="1.47" height="15.30" fill="#555"/>
<rect x="280.68" y="180.90" width="4.42" height="15.30" fill="#b4b4b4"/>
<rect x="285.10" y="180.90" width="1.96" height="15.30" fill="#222"/>
<rect x="288.53" y="180.90" width="1.47" height="15.30" fill="#555"/>
<rect x="290.01" y="180.90" width="1.96" height="15.30" fill="#eee"/>
<rect x="291.97" y="180.90" width="1.96" height="15.30" fill="#666"/>
<rect x="296.88" y="180.90" width="1.47" height="15.30" fill="#aaa"/>
<rect x="301.78" y="180.90" width="1.96" height="15.30" fill="#666"/>
<rect x="312.58" y="180.90" width="0.98" height="15.30" fill="#ccc"/>
<rect x="212.40" y="196.20" width="104.80" height="3.60" fill="url(#cbB)"/>
<path d="M212.50,176.20 C212.84,174.16 213.52,169.68 214.20,166.00 C214.88,162.32 215.24,160.40 215.90,157.80 C216.56,155.20 216.84,154.76 217.50,153.00 C218.16,151.24 218.58,150.30 219.20,149.00 C219.82,147.70 220.04,147.28 220.60,146.50 C221.16,145.72 221.28,145.26 222.00,145.10 C222.72,144.94 223.50,146.42 224.20,145.70 C224.90,144.98 224.98,143.02 225.50,141.50 C226.02,139.98 226.24,139.16 226.80,138.10 C227.36,137.04 227.64,136.86 228.30,136.20 C228.96,135.54 228.86,135.38 230.10,134.80 C231.34,134.22 232.72,133.66 234.50,133.30 C236.28,132.94 237.04,132.92 239.00,133.00 C240.96,133.08 242.30,133.00 244.30,133.70 C246.30,134.40 246.82,134.96 249.00,136.50 C251.18,138.04 252.70,139.40 255.20,141.40 C257.70,143.40 258.88,144.32 261.50,146.50 C264.12,148.68 265.60,150.24 268.30,152.30 C271.00,154.36 272.38,155.06 275.00,156.80 C277.62,158.54 279.02,159.72 281.40,161.00 C283.78,162.28 284.28,162.46 286.90,163.20 C289.52,163.94 291.66,163.82 294.50,164.70 C297.34,165.58 299.14,167.16 301.10,167.60 C303.06,168.04 302.92,166.46 304.30,166.90 C305.68,167.34 306.46,168.58 308.00,169.80 C309.54,171.02 310.90,172.46 312.00,173.00 C313.10,173.54 312.46,171.80 313.50,172.50 C314.54,173.20 316.46,175.70 317.20,176.50" fill="none" stroke="#12ee12" stroke-width="1.5" stroke-linejoin="round" stroke-linecap="round"/>
<text x="302.50" y="137.90" font-size="5.9" fill="#1e1e1e" text-anchor="middle" font-weight="bold" textLength="31.70" lengthAdjust="spacingAndGlyphs" stroke="#1e1e1e" stroke-width="0.12">NES = 1.600</text>
<text x="302.50" y="144.50" font-size="5.9" font-weight="bold" fill="#1e1e1e" stroke="#1e1e1e" stroke-width="0.12" text-anchor="middle" textLength="23.70" lengthAdjust="spacingAndGlyphs"><tspan style="font-style:italic">P</tspan> = 0.021</text>
<text x="302.50" y="151.20" font-size="5.9" fill="#1e1e1e" text-anchor="middle" font-weight="bold" textLength="30.90" lengthAdjust="spacingAndGlyphs" stroke="#1e1e1e" stroke-width="0.12">FDR = 0.126</text>
<text x="256.15" y="127.20" font-size="6.8" fill="#1a1a1a" text-anchor="middle" font-weight="bold" textLength="40.70" lengthAdjust="spacingAndGlyphs" stroke="#1a1a1a" stroke-width="0.15">DNA_REPAIR</text>
<text x="194.50" y="154.00" font-size="6.6" fill="#262626" text-anchor="middle" font-weight="bold" textLength="40.00" lengthAdjust="spacingAndGlyphs" transform="rotate(-90 194.50 154.00)" stroke="#262626" stroke-width="0.12">Enrichment</text>
<text x="201.40" y="153.50" font-size="6.6" fill="#262626" text-anchor="middle" font-weight="bold" textLength="35.00" lengthAdjust="spacingAndGlyphs" transform="rotate(-90 201.40 153.50)" stroke="#262626" stroke-width="0.12">score (ES)</text>
<rect x="212.40" y="225.00" width="110.40" height="62.70" fill="#fff" stroke="#d9d9d9" stroke-width="0.6"/>
<line x1="212.40" y1="227.00" x2="322.80" y2="227.00" stroke="#efefef" stroke-width="0.5"/>
<line x1="212.40" y1="233.60" x2="322.80" y2="233.60" stroke="#efefef" stroke-width="0.5"/>
<line x1="212.40" y1="240.20" x2="322.80" y2="240.20" stroke="#efefef" stroke-width="0.5"/>
<line x1="212.40" y1="246.90" x2="322.80" y2="246.90" stroke="#efefef" stroke-width="0.5"/>
<line x1="212.40" y1="253.50" x2="322.80" y2="253.50" stroke="#efefef" stroke-width="0.5"/>
<line x1="212.40" y1="260.10" x2="322.80" y2="260.10" stroke="#efefef" stroke-width="0.5"/>
<line x1="212.40" y1="266.70" x2="322.80" y2="266.70" stroke="#efefef" stroke-width="0.5"/>
<line x1="222.85" y1="225.00" x2="222.85" y2="266.70" stroke="#efefef" stroke-width="0.5"/>
<line x1="233.30" y1="225.00" x2="233.30" y2="266.70" stroke="#efefef" stroke-width="0.5"/>
<line x1="243.75" y1="225.00" x2="243.75" y2="266.70" stroke="#efefef" stroke-width="0.5"/>
<line x1="254.20" y1="225.00" x2="254.20" y2="266.70" stroke="#efefef" stroke-width="0.5"/>
<line x1="264.65" y1="225.00" x2="264.65" y2="266.70" stroke="#efefef" stroke-width="0.5"/>
<line x1="275.10" y1="225.00" x2="275.10" y2="266.70" stroke="#efefef" stroke-width="0.5"/>
<line x1="285.55" y1="225.00" x2="285.55" y2="266.70" stroke="#efefef" stroke-width="0.5"/>
<line x1="296.00" y1="225.00" x2="296.00" y2="266.70" stroke="#efefef" stroke-width="0.5"/>
<line x1="306.45" y1="225.00" x2="306.45" y2="266.70" stroke="#efefef" stroke-width="0.5"/>
<line x1="316.90" y1="225.00" x2="316.90" y2="266.70" stroke="#efefef" stroke-width="0.5"/>
<line x1="212.40" y1="225.00" x2="212.40" y2="267.00" stroke="#c8c8c8" stroke-width="0.6"/>
<line x1="212.40" y1="266.70" x2="322.80" y2="266.70" stroke="#d4d4d4" stroke-width="0.6"/>
<line x1="212.40" y1="269.70" x2="322.80" y2="269.70" stroke="#e2e2e2" stroke-width="0.5"/>
<text x="210.10" y="228.60" font-size="4.6" fill="#262626" text-anchor="end" font-weight="bold" textLength="5.90" lengthAdjust="spacingAndGlyphs" stroke="#262626" stroke-width="0.1">0.6</text>
<text x="210.10" y="235.20" font-size="4.6" fill="#262626" text-anchor="end" font-weight="bold" textLength="5.90" lengthAdjust="spacingAndGlyphs" stroke="#262626" stroke-width="0.1">0.5</text>
<text x="210.10" y="241.80" font-size="4.6" fill="#262626" text-anchor="end" font-weight="bold" textLength="5.90" lengthAdjust="spacingAndGlyphs" stroke="#262626" stroke-width="0.1">0.4</text>
<text x="210.10" y="248.50" font-size="4.6" fill="#262626" text-anchor="end" font-weight="bold" textLength="5.90" lengthAdjust="spacingAndGlyphs" stroke="#262626" stroke-width="0.1">0.3</text>
<text x="210.10" y="255.10" font-size="4.6" fill="#262626" text-anchor="end" font-weight="bold" textLength="5.90" lengthAdjust="spacingAndGlyphs" stroke="#262626" stroke-width="0.1">0.2</text>
<text x="210.10" y="261.70" font-size="4.6" fill="#262626" text-anchor="end" font-weight="bold" textLength="5.90" lengthAdjust="spacingAndGlyphs" stroke="#262626" stroke-width="0.1">0.1</text>
<text x="210.10" y="268.30" font-size="4.6" fill="#262626" text-anchor="end" font-weight="bold" textLength="5.90" lengthAdjust="spacingAndGlyphs" stroke="#262626" stroke-width="0.1">0.0</text>
<rect x="212.47" y="270.50" width="2.94" height="14.70" fill="#111"/>
<rect x="215.42" y="270.50" width="1.47" height="14.70" fill="#333"/>
<rect x="216.89" y="270.50" width="1.47" height="14.70" fill="#3a3a3a"/>
<rect x="218.36" y="270.50" width="1.47" height="14.70" fill="#444"/>
<rect x="219.83" y="270.50" width="1.47" height="14.70" fill="#666"/>
<rect x="221.30" y="270.50" width="3.43" height="14.70" fill="#111"/>
<rect x="224.74" y="270.50" width="2.45" height="14.70" fill="#555"/>
<rect x="227.19" y="270.50" width="1.47" height="14.70" fill="#444"/>
<rect x="228.66" y="270.50" width="1.47" height="14.70" fill="#333"/>
<rect x="230.14" y="270.50" width="1.47" height="14.70" fill="#999"/>
<rect x="233.08" y="270.50" width="1.47" height="14.70" fill="#bbb"/>
<rect x="234.55" y="270.50" width="1.47" height="14.70" fill="#999"/>
<rect x="236.02" y="270.50" width="1.47" height="14.70" fill="#777"/>
<rect x="237.50" y="270.50" width="1.47" height="14.70" fill="#999"/>
<rect x="238.97" y="270.50" width="1.47" height="14.70" fill="#222"/>
<rect x="243.38" y="270.50" width="2.94" height="14.70" fill="#222"/>
<rect x="248.29" y="270.50" width="1.47" height="14.70" fill="#ccc"/>
<rect x="249.76" y="270.50" width="2.45" height="14.70" fill="#aaa"/>
<rect x="252.22" y="270.50" width="3.93" height="14.70" fill="#888"/>
<rect x="256.14" y="270.50" width="1.47" height="14.70" fill="#444"/>
<rect x="260.56" y="270.50" width="1.47" height="14.70" fill="#bbb"/>
<rect x="266.45" y="270.50" width="3.43" height="14.70" fill="#777"/>
<rect x="269.89" y="270.50" width="1.47" height="14.70" fill="#ddd"/>
<rect x="273.81" y="270.50" width="1.96" height="14.70" fill="#ccc"/>
<rect x="275.78" y="270.50" width="1.47" height="14.70" fill="#666"/>
<rect x="277.25" y="270.50" width="0.98" height="14.70" fill="#888"/>
<rect x="278.23" y="270.50" width="1.47" height="14.70" fill="#666"/>
<rect x="279.70" y="270.50" width="3.43" height="14.70" fill="#ccc"/>
<rect x="283.14" y="270.50" width="2.94" height="14.70" fill="#777"/>
<rect x="290.50" y="270.50" width="6.87" height="14.70" fill="#c0c0c0"/>
<rect x="299.33" y="270.50" width="1.96" height="14.70" fill="#555"/>
<rect x="301.29" y="270.50" width="0.98" height="14.70" fill="#ddd"/>
<rect x="302.27" y="270.50" width="0.98" height="14.70" fill="#888"/>
<rect x="305.22" y="270.50" width="2.94" height="14.70" fill="#999"/>
<rect x="308.16" y="270.50" width="1.96" height="14.70" fill="#eee"/>
<rect x="310.12" y="270.50" width="5.40" height="14.70" fill="#909090"/>
<rect x="212.40" y="285.20" width="104.80" height="2.50" fill="url(#cbB)"/>
<path d="M212.50,266.70 C212.66,264.96 212.96,261.22 213.30,258.00 C213.64,254.78 213.68,253.40 214.20,250.60 C214.72,247.80 215.12,246.40 215.90,244.00 C216.68,241.60 217.00,240.56 218.10,238.60 C219.20,236.64 220.08,235.96 221.40,234.20 C222.72,232.44 223.40,231.02 224.70,229.80 C226.00,228.58 226.60,228.54 227.90,228.10 C229.20,227.66 229.66,227.38 231.20,227.60 C232.74,227.82 232.98,228.32 235.60,229.20 C238.22,230.08 240.82,230.56 244.30,232.00 C247.78,233.44 249.56,234.48 253.00,236.40 C256.44,238.32 258.00,239.42 261.50,241.60 C265.00,243.78 267.00,245.16 270.50,247.30 C274.00,249.44 275.50,250.34 279.00,252.30 C282.50,254.26 284.60,255.32 288.00,257.10 C291.40,258.88 292.94,259.66 296.00,261.20 C299.06,262.74 300.98,263.78 303.30,264.80 C305.62,265.82 306.36,266.04 307.60,266.30 C308.84,266.56 308.84,265.98 309.50,266.10 C310.16,266.22 310.30,266.82 310.90,266.90 C311.50,266.98 311.84,266.80 312.50,266.50 C313.16,266.20 313.26,265.44 314.20,265.40 C315.14,265.36 316.60,266.12 317.20,266.30" fill="none" stroke="#12ee12" stroke-width="1.5" stroke-linejoin="round" stroke-linecap="round"/>
<text x="302.50" y="235.10" font-size="5.9" fill="#1e1e1e" text-anchor="middle" font-weight="bold" textLength="31.70" lengthAdjust="spacingAndGlyphs" stroke="#1e1e1e" stroke-width="0.12">NES = 1.803</text>
<text x="302.50" y="242.00" font-size="5.9" font-weight="bold" fill="#1e1e1e" stroke="#1e1e1e" stroke-width="0.12" text-anchor="middle" textLength="23.70" lengthAdjust="spacingAndGlyphs"><tspan style="font-style:italic">P</tspan> = 0.006</text>
<text x="302.50" y="249.00" font-size="5.9" fill="#1e1e1e" text-anchor="middle" font-weight="bold" textLength="30.90" lengthAdjust="spacingAndGlyphs" stroke="#1e1e1e" stroke-width="0.12">FDR = 0.308</text>
<text x="256.15" y="214.60" font-size="6.8" fill="#1a1a1a" text-anchor="middle" font-weight="bold" textLength="122.10" lengthAdjust="spacingAndGlyphs" stroke="#1a1a1a" stroke-width="0.15">IGD_POS_BLOOD_VS_PRE_GC_TONSIL</text>
<text x="257.45" y="222.80" font-size="6.8" fill="#1a1a1a" text-anchor="middle" font-weight="bold" textLength="33.10" lengthAdjust="spacingAndGlyphs" stroke="#1a1a1a" stroke-width="0.15">_BCELL_DN</text>
<text x="194.50" y="249.50" font-size="6.6" fill="#262626" text-anchor="middle" font-weight="bold" textLength="41.00" lengthAdjust="spacingAndGlyphs" transform="rotate(-90 194.50 249.50)" stroke="#262626" stroke-width="0.12">Enrichment</text>
<text x="201.40" y="249.50" font-size="6.6" fill="#262626" text-anchor="middle" font-weight="bold" textLength="35.00" lengthAdjust="spacingAndGlyphs" transform="rotate(-90 201.40 249.50)" stroke="#262626" stroke-width="0.12">score (ES)</text>
<text x="361.55" y="13.60" font-size="10" fill="#111" text-anchor="middle" font-weight="bold" textLength="5.30" lengthAdjust="spacingAndGlyphs" stroke="#111" stroke-width="0.4">c</text>
<text x="453.20" y="29.50" font-size="6.8" fill="#111" text-anchor="middle" font-weight="bold" font-style="italic" textLength="22.60" lengthAdjust="spacingAndGlyphs" stroke="#111" stroke-width="0.2">CDH17</text>
<line x1="367.50" y1="42.00" x2="367.50" y2="89.40" stroke="#cfcfcf" stroke-width="0.7"/>
<line x1="367.50" y1="89.40" x2="395.30" y2="89.40" stroke="#cfcfcf" stroke-width="0.7"/>
<text x="365.20" y="47.90" font-size="4.9" fill="#555" text-anchor="end" >0.3</text>
<line x1="366.30" y1="46.20" x2="367.50" y2="46.20" stroke="#999" stroke-width="0.5"/>
<text x="365.20" y="61.70" font-size="4.9" fill="#555" text-anchor="end" >0.2</text>
<line x1="366.30" y1="60.00" x2="367.50" y2="60.00" stroke="#999" stroke-width="0.5"/>
<text x="365.20" y="75.40" font-size="4.9" fill="#555" text-anchor="end" >0.1</text>
<line x1="366.30" y1="73.70" x2="367.50" y2="73.70" stroke="#999" stroke-width="0.5"/>
<text x="365.20" y="89.20" font-size="4.9" fill="#555" text-anchor="end" >0.0</text>
<line x1="366.30" y1="87.50" x2="367.50" y2="87.50" stroke="#999" stroke-width="0.5"/>
<line x1="375.20" y1="46.00" x2="375.20" y2="53.00" stroke="#c2c2c2" stroke-width="1.1"/>
<line x1="375.20" y1="65.80" x2="375.20" y2="82.30" stroke="#c2c2c2" stroke-width="1.1"/>
<rect x="371.80" y="53.00" width="6.80" height="12.80" fill="#0f70d0" stroke="#333" stroke-width="0.35"/>
<line x1="371.80" y1="60.30" x2="378.60" y2="60.30" stroke="#222" stroke-width="0.8"/>
<circle cx="375.20" cy="87.00" r="0.85" fill="#111"/>
<line x1="387.75" y1="44.00" x2="387.75" y2="49.30" stroke="#c2c2c2" stroke-width="1.1"/>
<line x1="387.75" y1="61.50" x2="387.75" y2="75.00" stroke="#c2c2c2" stroke-width="1.1"/>
<rect x="384.50" y="49.30" width="6.50" height="12.20" fill="#ff4414" stroke="#333" stroke-width="0.35"/>
<line x1="384.50" y1="53.30" x2="391.00" y2="53.30" stroke="#222" stroke-width="0.8"/>
<text x="380.00" y="45.75" font-size="3.7" fill="#222" text-anchor="middle" textLength="17.00" lengthAdjust="spacingAndGlyphs" >p = 0.0069</text>
<text x="381.25" y="38.70" font-size="5.6" fill="#1a1a1a" text-anchor="middle" textLength="28.60" lengthAdjust="spacingAndGlyphs" stroke="#1a1a1a" stroke-width="0.06">Macrophage</text>
<text x="375.30" y="95.10" font-size="4.8" fill="#3157a8" text-anchor="middle" font-weight="bold" font-family='"Liberation Serif", serif' textLength="9.20" lengthAdjust="spacingAndGlyphs" >Low</text>
<text x="375.30" y="100.30" font-size="4.8" fill="#3157a8" text-anchor="middle" font-weight="bold" font-family='"Liberation Serif", serif' textLength="10.00" lengthAdjust="spacingAndGlyphs" >Meth</text>
<text x="388.50" y="95.10" font-size="4.8" fill="#f24a4a" text-anchor="middle" font-weight="bold" font-family='"Liberation Serif", serif' textLength="10.00" lengthAdjust="spacingAndGlyphs" >High</text>
<text x="388.50" y="100.30" font-size="4.8" fill="#f24a4a" text-anchor="middle" font-weight="bold" font-family='"Liberation Serif", serif' textLength="10.00" lengthAdjust="spacingAndGlyphs" >Meth</text>
<line x1="415.80" y1="42.00" x2="415.80" y2="89.30" stroke="#cfcfcf" stroke-width="0.7"/>
<line x1="415.80" y1="89.30" x2="443.80" y2="89.30" stroke="#cfcfcf" stroke-width="0.7"/>
<text x="413.50" y="54.70" font-size="4.9" fill="#555" text-anchor="end" >0.3</text>
<line x1="414.60" y1="53.00" x2="415.80" y2="53.00" stroke="#999" stroke-width="0.5"/>
<text x="413.50" y="65.80" font-size="4.9" fill="#555" text-anchor="end" >0.2</text>
<line x1="414.60" y1="64.10" x2="415.80" y2="64.10" stroke="#999" stroke-width="0.5"/>
<text x="413.50" y="77.40" font-size="4.9" fill="#555" text-anchor="end" >0.1</text>
<line x1="414.60" y1="75.70" x2="415.80" y2="75.70" stroke="#999" stroke-width="0.5"/>
<text x="413.50" y="89.00" font-size="4.9" fill="#555" text-anchor="end" >0.0</text>
<line x1="414.60" y1="87.30" x2="415.80" y2="87.30" stroke="#999" stroke-width="0.5"/>
<line x1="423.85" y1="55.50" x2="423.85" y2="67.00" stroke="#c2c2c2" stroke-width="1.1"/>
<line x1="423.85" y1="78.40" x2="423.85" y2="86.00" stroke="#c2c2c2" stroke-width="1.1"/>
<rect x="420.70" y="67.00" width="6.30" height="11.40" fill="#0f70d0" stroke="#333" stroke-width="0.35"/>
<line x1="420.70" y1="73.00" x2="427.00" y2="73.00" stroke="#222" stroke-width="0.8"/>
<line x1="436.50" y1="60.50" x2="436.50" y2="66.00" stroke="#c2c2c2" stroke-width="1.1"/>
<line x1="436.50" y1="75.00" x2="436.50" y2="81.00" stroke="#c2c2c2" stroke-width="1.1"/>
<rect x="433.00" y="66.00" width="7.00" height="9.00" fill="#ff4414" stroke="#333" stroke-width="0.35"/>
<line x1="433.00" y1="70.40" x2="440.00" y2="70.40" stroke="#222" stroke-width="0.8"/>
<circle cx="436.50" cy="44.00" r="0.85" fill="#111"/>
<circle cx="436.50" cy="48.50" r="0.85" fill="#111"/>
<text x="427.25" y="45.75" font-size="3.7" fill="#222" text-anchor="middle" textLength="12.50" lengthAdjust="spacingAndGlyphs" >p = 0.13</text>
<text x="429.75" y="38.70" font-size="5.6" fill="#1a1a1a" text-anchor="middle" textLength="14.90" lengthAdjust="spacingAndGlyphs" stroke="#1a1a1a" stroke-width="0.06">CD4 T</text>
<text x="424.30" y="95.10" font-size="4.8" fill="#3157a8" text-anchor="middle" font-weight="bold" font-family='"Liberation Serif", serif' textLength="9.20" lengthAdjust="spacingAndGlyphs" >Low</text>
<text x="424.30" y="100.30" font-size="4.8" fill="#3157a8" text-anchor="middle" font-weight="bold" font-family='"Liberation Serif", serif' textLength="10.00" lengthAdjust="spacingAndGlyphs" >Meth</text>
<text x="437.00" y="95.10" font-size="4.8" fill="#f24a4a" text-anchor="middle" font-weight="bold" font-family='"Liberation Serif", serif' textLength="10.00" lengthAdjust="spacingAndGlyphs" >High</text>
<text x="437.00" y="100.30" font-size="4.8" fill="#f24a4a" text-anchor="middle" font-weight="bold" font-family='"Liberation Serif", serif' textLength="10.00" lengthAdjust="spacingAndGlyphs" >Meth</text>
<line x1="466.20" y1="42.00" x2="466.20" y2="89.30" stroke="#cfcfcf" stroke-width="0.7"/>
<line x1="466.20" y1="89.30" x2="494.20" y2="89.30" stroke="#cfcfcf" stroke-width="0.7"/>
<text x="463.90" y="49.20" font-size="4.9" fill="#555" text-anchor="end" >0.3</text>
<line x1="465.00" y1="47.50" x2="466.20" y2="47.50" stroke="#999" stroke-width="0.5"/>
<text x="463.90" y="62.20" font-size="4.9" fill="#555" text-anchor="end" >0.2</text>
<line x1="465.00" y1="60.50" x2="466.20" y2="60.50" stroke="#999" stroke-width="0.5"/>
<text x="463.90" y="75.70" font-size="4.9" fill="#555" text-anchor="end" >0.1</text>
<line x1="465.00" y1="74.00" x2="466.20" y2="74.00" stroke="#999" stroke-width="0.5"/>
<text x="463.90" y="89.00" font-size="4.9" fill="#555" text-anchor="end" >0.0</text>
<line x1="465.00" y1="87.30" x2="466.20" y2="87.30" stroke="#999" stroke-width="0.5"/>
<line x1="474.50" y1="44.50" x2="474.50" y2="61.20" stroke="#c2c2c2" stroke-width="1.1"/>
<line x1="474.50" y1="76.00" x2="474.50" y2="86.00" stroke="#c2c2c2" stroke-width="1.1"/>
<rect x="471.00" y="61.20" width="7.00" height="14.80" fill="#0f70d0" stroke="#333" stroke-width="0.35"/>
<line x1="471.00" y1="69.70" x2="478.00" y2="69.70" stroke="#222" stroke-width="0.8"/>
<line x1="487.35" y1="58.00" x2="487.35" y2="68.00" stroke="#c2c2c2" stroke-width="1.1"/>
<line x1="487.35" y1="80.00" x2="487.35" y2="86.00" stroke="#c2c2c2" stroke-width="1.1"/>
<rect x="484.00" y="68.00" width="6.70" height="12.00" fill="#ff4414" stroke="#333" stroke-width="0.35"/>
<line x1="484.00" y1="73.70" x2="490.70" y2="73.70" stroke="#222" stroke-width="0.8"/>
<text x="478.50" y="45.75" font-size="3.7" fill="#222" text-anchor="middle" textLength="15.00" lengthAdjust="spacingAndGlyphs" >p = 0.019</text>
<text x="480.65" y="38.70" font-size="5.6" fill="#1a1a1a" text-anchor="middle" textLength="15.30" lengthAdjust="spacingAndGlyphs" stroke="#1a1a1a" stroke-width="0.06">CD8 T</text>
<text x="474.50" y="95.10" font-size="4.8" fill="#3157a8" text-anchor="middle" font-weight="bold" font-family='"Liberation Serif", serif' textLength="9.20" lengthAdjust="spacingAndGlyphs" >Low</text>
<text x="474.50" y="100.30" font-size="4.8" fill="#3157a8" text-anchor="middle" font-weight="bold" font-family='"Liberation Serif", serif' textLength="10.00" lengthAdjust="spacingAndGlyphs" >Meth</text>
<text x="487.30" y="95.10" font-size="4.8" fill="#f24a4a" text-anchor="middle" font-weight="bold" font-family='"Liberation Serif", serif' textLength="10.00" lengthAdjust="spacingAndGlyphs" >High</text>
<text x="487.30" y="100.30" font-size="4.8" fill="#f24a4a" text-anchor="middle" font-weight="bold" font-family='"Liberation Serif", serif' textLength="10.00" lengthAdjust="spacingAndGlyphs" >Meth</text>
<line x1="517.50" y1="42.00" x2="517.50" y2="89.30" stroke="#cfcfcf" stroke-width="0.7"/>
<line x1="517.50" y1="89.30" x2="545.50" y2="89.30" stroke="#cfcfcf" stroke-width="0.7"/>
<text x="515.20" y="48.70" font-size="4.9" fill="#555" text-anchor="end" >0.3</text>
<line x1="516.30" y1="47.00" x2="517.50" y2="47.00" stroke="#999" stroke-width="0.5"/>
<text x="515.20" y="62.00" font-size="4.9" fill="#555" text-anchor="end" >0.2</text>
<line x1="516.30" y1="60.30" x2="517.50" y2="60.30" stroke="#999" stroke-width="0.5"/>
<text x="515.20" y="75.70" font-size="4.9" fill="#555" text-anchor="end" >0.1</text>
<line x1="516.30" y1="74.00" x2="517.50" y2="74.00" stroke="#999" stroke-width="0.5"/>
<text x="515.20" y="89.00" font-size="4.9" fill="#555" text-anchor="end" >0.0</text>
<line x1="516.30" y1="87.30" x2="517.50" y2="87.30" stroke="#999" stroke-width="0.5"/>
<line x1="525.50" y1="63.00" x2="525.50" y2="74.70" stroke="#c2c2c2" stroke-width="1.1"/>
<line x1="525.50" y1="84.40" x2="525.50" y2="86.70" stroke="#c2c2c2" stroke-width="1.1"/>
<rect x="522.00" y="74.70" width="7.00" height="9.70" fill="#0f70d0" stroke="#333" stroke-width="0.35"/>
<line x1="522.00" y1="80.70" x2="529.00" y2="80.70" stroke="#222" stroke-width="0.8"/>
<circle cx="525.50" cy="54.50" r="0.85" fill="#111"/>
<circle cx="525.50" cy="57.50" r="0.85" fill="#111"/>
<circle cx="525.50" cy="58.50" r="0.85" fill="#111"/>
<line x1="538.35" y1="63.00" x2="538.35" y2="73.30" stroke="#c2c2c2" stroke-width="1.1"/>
<line x1="538.35" y1="81.30" x2="538.35" y2="86.70" stroke="#c2c2c2" stroke-width="1.1"/>
<rect x="535.00" y="73.30" width="6.70" height="8.00" fill="#ff4414" stroke="#333" stroke-width="0.35"/>
<line x1="535.00" y1="77.00" x2="541.70" y2="77.00" stroke="#222" stroke-width="0.8"/>
<circle cx="538.35" cy="44.00" r="0.85" fill="#111"/>
<circle cx="538.35" cy="59.50" r="0.85" fill="#111"/>
<text x="529.75" y="45.75" font-size="3.7" fill="#222" text-anchor="middle" textLength="14.50" lengthAdjust="spacingAndGlyphs" >p = 0.051</text>
<text x="532.25" y="38.70" font-size="5.6" fill="#1a1a1a" text-anchor="middle" textLength="9.50" lengthAdjust="spacingAndGlyphs" stroke="#1a1a1a" stroke-width="0.06">Tex</text>
<text x="525.70" y="95.10" font-size="4.8" fill="#3157a8" text-anchor="middle" font-weight="bold" font-family='"Liberation Serif", serif' textLength="9.20" lengthAdjust="spacingAndGlyphs" >Low</text>
<text x="525.70" y="100.30" font-size="4.8" fill="#3157a8" text-anchor="middle" font-weight="bold" font-family='"Liberation Serif", serif' textLength="10.00" lengthAdjust="spacingAndGlyphs" >Meth</text>
<text x="539.00" y="95.10" font-size="4.8" fill="#f24a4a" text-anchor="middle" font-weight="bold" font-family='"Liberation Serif", serif' textLength="10.00" lengthAdjust="spacingAndGlyphs" >High</text>
<text x="539.00" y="100.30" font-size="4.8" fill="#f24a4a" text-anchor="middle" font-weight="bold" font-family='"Liberation Serif", serif' textLength="10.00" lengthAdjust="spacingAndGlyphs" >Meth</text>
<text x="362.10" y="113.60" font-size="10" fill="#111" text-anchor="middle" font-weight="bold" textLength="5.60" lengthAdjust="spacingAndGlyphs" stroke="#111" stroke-width="0.4">d</text>
<text x="453.00" y="119.50" font-size="6.8" fill="#111" text-anchor="middle" font-weight="bold" font-style="italic" textLength="16.40" lengthAdjust="spacingAndGlyphs" stroke="#111" stroke-width="0.2">LRP2</text>
<line x1="367.20" y1="131.00" x2="367.20" y2="178.40" stroke="#cfcfcf" stroke-width="0.7"/>
<line x1="367.20" y1="178.40" x2="395.30" y2="178.40" stroke="#cfcfcf" stroke-width="0.7"/>
<text x="364.90" y="141.00" font-size="4.9" fill="#555" text-anchor="end" >0.3</text>
<line x1="366.00" y1="139.30" x2="367.20" y2="139.30" stroke="#999" stroke-width="0.5"/>
<text x="364.90" y="153.20" font-size="4.9" fill="#555" text-anchor="end" >0.2</text>
<line x1="366.00" y1="151.50" x2="367.20" y2="151.50" stroke="#999" stroke-width="0.5"/>
<text x="364.90" y="165.70" font-size="4.9" fill="#555" text-anchor="end" >0.1</text>
<line x1="366.00" y1="164.00" x2="367.20" y2="164.00" stroke="#999" stroke-width="0.5"/>
<text x="364.90" y="178.40" font-size="4.9" fill="#555" text-anchor="end" >0.0</text>
<line x1="366.00" y1="176.70" x2="367.20" y2="176.70" stroke="#999" stroke-width="0.5"/>
<line x1="375.15" y1="132.50" x2="375.15" y2="149.00" stroke="#c2c2c2" stroke-width="1.1"/>
<line x1="375.15" y1="159.60" x2="375.15" y2="170.70" stroke="#c2c2c2" stroke-width="1.1"/>
<rect x="371.80" y="149.00" width="6.70" height="10.60" fill="#0f70d0" stroke="#333" stroke-width="0.35"/>
<line x1="371.80" y1="153.30" x2="378.50" y2="153.30" stroke="#222" stroke-width="0.8"/>
<circle cx="375.15" cy="133.00" r="0.85" fill="#111"/>
<line x1="387.90" y1="137.00" x2="387.90" y2="145.20" stroke="#c2c2c2" stroke-width="1.1"/>
<line x1="387.90" y1="155.00" x2="387.90" y2="166.00" stroke="#c2c2c2" stroke-width="1.1"/>
<rect x="384.80" y="145.20" width="6.20" height="9.80" fill="#ff4414" stroke="#333" stroke-width="0.35"/>
<line x1="384.80" y1="150.50" x2="391.00" y2="150.50" stroke="#222" stroke-width="0.8"/>
<circle cx="387.90" cy="176.40" r="0.85" fill="#111"/>
<text x="379.50" y="134.75" font-size="3.7" fill="#222" text-anchor="middle" textLength="15.00" lengthAdjust="spacingAndGlyphs" >p = 0.069</text>
<text x="381.40" y="127.90" font-size="5.6" fill="#1a1a1a" text-anchor="middle" textLength="13.10" lengthAdjust="spacingAndGlyphs" stroke="#1a1a1a" stroke-width="0.06">B cell</text>
<text x="375.30" y="184.40" font-size="4.8" fill="#3157a8" text-anchor="middle" font-weight="bold" font-family='"Liberation Serif", serif' textLength="9.20" lengthAdjust="spacingAndGlyphs" >Low</text>
<text x="375.30" y="189.60" font-size="4.8" fill="#3157a8" text-anchor="middle" font-weight="bold" font-family='"Liberation Serif", serif' textLength="10.00" lengthAdjust="spacingAndGlyphs" >Meth</text>
<text x="388.50" y="184.40" font-size="4.8" fill="#f24a4a" text-anchor="middle" font-weight="bold" font-family='"Liberation Serif", serif' textLength="10.00" lengthAdjust="spacingAndGlyphs" >High</text>
<text x="388.50" y="189.60" font-size="4.8" fill="#f24a4a" text-anchor="middle" font-weight="bold" font-family='"Liberation Serif", serif' textLength="10.00" lengthAdjust="spacingAndGlyphs" >Meth</text>
<line x1="416.00" y1="131.00" x2="416.00" y2="178.00" stroke="#cfcfcf" stroke-width="0.7"/>
<line x1="416.00" y1="178.00" x2="443.80" y2="178.00" stroke="#cfcfcf" stroke-width="0.7"/>
<text x="413.70" y="143.70" font-size="4.9" fill="#555" text-anchor="end" >0.3</text>
<line x1="414.80" y1="142.00" x2="416.00" y2="142.00" stroke="#999" stroke-width="0.5"/>
<text x="413.70" y="155.10" font-size="4.9" fill="#555" text-anchor="end" >0.2</text>
<line x1="414.80" y1="153.40" x2="416.00" y2="153.40" stroke="#999" stroke-width="0.5"/>
<text x="413.70" y="166.40" font-size="4.9" fill="#555" text-anchor="end" >0.1</text>
<line x1="414.80" y1="164.70" x2="416.00" y2="164.70" stroke="#999" stroke-width="0.5"/>
<text x="413.70" y="177.70" font-size="4.9" fill="#555" text-anchor="end" >0.0</text>
<line x1="414.80" y1="176.00" x2="416.00" y2="176.00" stroke="#999" stroke-width="0.5"/>
<line x1="423.85" y1="145.50" x2="423.85" y2="155.60" stroke="#c2c2c2" stroke-width="1.1"/>
<line x1="423.85" y1="165.70" x2="423.85" y2="176.70" stroke="#c2c2c2" stroke-width="1.1"/>
<rect x="420.70" y="155.60" width="6.30" height="10.10" fill="#0f70d0" stroke="#333" stroke-width="0.35"/>
<line x1="420.70" y1="161.30" x2="427.00" y2="161.30" stroke="#222" stroke-width="0.8"/>
<circle cx="423.85" cy="137.50" r="0.85" fill="#111"/>
<line x1="436.65" y1="145.00" x2="436.65" y2="159.60" stroke="#c2c2c2" stroke-width="1.1"/>
<line x1="436.65" y1="171.00" x2="436.65" y2="176.70" stroke="#c2c2c2" stroke-width="1.1"/>
<rect x="433.30" y="159.60" width="6.70" height="11.40" fill="#ff4414" stroke="#333" stroke-width="0.35"/>
<line x1="433.30" y1="164.00" x2="440.00" y2="164.00" stroke="#222" stroke-width="0.8"/>
<text x="428.15" y="135.05" font-size="3.7" fill="#222" text-anchor="middle" textLength="14.70" lengthAdjust="spacingAndGlyphs" >p = 0.039</text>
<text x="430.10" y="127.80" font-size="5.6" fill="#1a1a1a" text-anchor="middle" textLength="15.20" lengthAdjust="spacingAndGlyphs" stroke="#1a1a1a" stroke-width="0.06">CD4 T</text>
<text x="424.30" y="184.40" font-size="4.8" fill="#3157a8" text-anchor="middle" font-weight="bold" font-family='"Liberation Serif", serif' textLength="9.20" lengthAdjust="spacingAndGlyphs" >Low</text>
<text x="424.30" y="189.60" font-size="4.8" fill="#3157a8" text-anchor="middle" font-weight="bold" font-family='"Liberation Serif", serif' textLength="10.00" lengthAdjust="spacingAndGlyphs" >Meth</text>
<text x="437.00" y="184.40" font-size="4.8" fill="#f24a4a" text-anchor="middle" font-weight="bold" font-family='"Liberation Serif", serif' textLength="10.00" lengthAdjust="spacingAndGlyphs" >High</text>
<text x="437.00" y="189.60" font-size="4.8" fill="#f24a4a" text-anchor="middle" font-weight="bold" font-family='"Liberation Serif", serif' textLength="10.00" lengthAdjust="spacingAndGlyphs" >Meth</text>
<line x1="466.50" y1="131.50" x2="466.50" y2="178.30" stroke="#cfcfcf" stroke-width="0.7"/>
<line x1="466.50" y1="178.30" x2="494.20" y2="178.30" stroke="#cfcfcf" stroke-width="0.7"/>
<text x="464.20" y="138.70" font-size="4.9" fill="#555" text-anchor="end" >0.3</text>
<line x1="465.30" y1="137.00" x2="466.50" y2="137.00" stroke="#999" stroke-width="0.5"/>
<text x="464.20" y="151.70" font-size="4.9" fill="#555" text-anchor="end" >0.2</text>
<line x1="465.30" y1="150.00" x2="466.50" y2="150.00" stroke="#999" stroke-width="0.5"/>
<text x="464.20" y="164.70" font-size="4.9" fill="#555" text-anchor="end" >0.1</text>
<line x1="465.30" y1="163.00" x2="466.50" y2="163.00" stroke="#999" stroke-width="0.5"/>
<text x="464.20" y="178.00" font-size="4.9" fill="#555" text-anchor="end" >0.0</text>
<line x1="465.30" y1="176.30" x2="466.50" y2="176.30" stroke="#999" stroke-width="0.5"/>
<line x1="474.35" y1="133.50" x2="474.35" y2="151.00" stroke="#c2c2c2" stroke-width="1.1"/>
<line x1="474.35" y1="167.40" x2="474.35" y2="175.00" stroke="#c2c2c2" stroke-width="1.1"/>
<rect x="470.70" y="151.00" width="7.30" height="16.40" fill="#0f70d0" stroke="#333" stroke-width="0.35"/>
<line x1="470.70" y1="159.70" x2="478.00" y2="159.70" stroke="#222" stroke-width="0.8"/>
<line x1="487.35" y1="145.50" x2="487.35" y2="153.00" stroke="#c2c2c2" stroke-width="1.1"/>
<line x1="487.35" y1="164.70" x2="487.35" y2="175.00" stroke="#c2c2c2" stroke-width="1.1"/>
<rect x="484.00" y="153.00" width="6.70" height="11.70" fill="#ff4414" stroke="#333" stroke-width="0.35"/>
<line x1="484.00" y1="160.30" x2="490.70" y2="160.30" stroke="#222" stroke-width="0.8"/>
<text x="476.75" y="134.75" font-size="3.7" fill="#222" text-anchor="middle" textLength="10.50" lengthAdjust="spacingAndGlyphs" >p = 0.99</text>
<text x="480.65" y="128.50" font-size="5.6" fill="#1a1a1a" text-anchor="middle" textLength="15.30" lengthAdjust="spacingAndGlyphs" stroke="#1a1a1a" stroke-width="0.06">CD8 T</text>
<text x="474.50" y="184.40" font-size="4.8" fill="#3157a8" text-anchor="middle" font-weight="bold" font-family='"Liberation Serif", serif' textLength="9.20" lengthAdjust="spacingAndGlyphs" >Low</text>
<text x="474.50" y="189.60" font-size="4.8" fill="#3157a8" text-anchor="middle" font-weight="bold" font-family='"Liberation Serif", serif' textLength="10.00" lengthAdjust="spacingAndGlyphs" >Meth</text>
<text x="487.30" y="184.40" font-size="4.8" fill="#f24a4a" text-anchor="middle" font-weight="bold" font-family='"Liberation Serif", serif' textLength="10.00" lengthAdjust="spacingAndGlyphs" >High</text>
<text x="487.30" y="189.60" font-size="4.8" fill="#f24a4a" text-anchor="middle" font-weight="bold" font-family='"Liberation Serif", serif' textLength="10.00" lengthAdjust="spacingAndGlyphs" >Meth</text>
<line x1="517.80" y1="131.50" x2="517.80" y2="178.00" stroke="#cfcfcf" stroke-width="0.7"/>
<line x1="517.80" y1="178.00" x2="545.50" y2="178.00" stroke="#cfcfcf" stroke-width="0.7"/>
<text x="515.50" y="136.20" font-size="4.9" fill="#555" text-anchor="end" >0.4</text>
<line x1="516.60" y1="134.50" x2="517.80" y2="134.50" stroke="#999" stroke-width="0.5"/>
<text x="515.50" y="146.70" font-size="4.9" fill="#555" text-anchor="end" >0.3</text>
<line x1="516.60" y1="145.00" x2="517.80" y2="145.00" stroke="#999" stroke-width="0.5"/>
<text x="515.50" y="157.10" font-size="4.9" fill="#555" text-anchor="end" >0.2</text>
<line x1="516.60" y1="155.40" x2="517.80" y2="155.40" stroke="#999" stroke-width="0.5"/>
<text x="515.50" y="167.70" font-size="4.9" fill="#555" text-anchor="end" >0.1</text>
<line x1="516.60" y1="166.00" x2="517.80" y2="166.00" stroke="#999" stroke-width="0.5"/>
<text x="515.50" y="178.30" font-size="4.9" fill="#555" text-anchor="end" >0.0</text>
<line x1="516.60" y1="176.60" x2="517.80" y2="176.60" stroke="#999" stroke-width="0.5"/>
<line x1="525.65" y1="141.50" x2="525.65" y2="156.70" stroke="#c2c2c2" stroke-width="1.1"/>
<line x1="525.65" y1="168.00" x2="525.65" y2="175.40" stroke="#c2c2c2" stroke-width="1.1"/>
<rect x="522.30" y="156.70" width="6.70" height="11.30" fill="#0f70d0" stroke="#333" stroke-width="0.35"/>
<line x1="522.30" y1="162.30" x2="529.00" y2="162.30" stroke="#222" stroke-width="0.8"/>
<circle cx="525.65" cy="133.00" r="0.85" fill="#111"/>
<circle cx="525.65" cy="138.00" r="0.85" fill="#111"/>
<line x1="538.35" y1="151.70" x2="538.35" y2="161.00" stroke="#c2c2c2" stroke-width="1.1"/>
<line x1="538.35" y1="171.70" x2="538.35" y2="175.40" stroke="#c2c2c2" stroke-width="1.1"/>
<rect x="535.00" y="161.00" width="6.70" height="10.70" fill="#ff4414" stroke="#333" stroke-width="0.35"/>
<line x1="535.00" y1="167.00" x2="541.70" y2="167.00" stroke="#222" stroke-width="0.8"/>
<circle cx="538.35" cy="142.50" r="0.85" fill="#111"/>
<text x="530.00" y="134.75" font-size="3.7" fill="#222" text-anchor="middle" textLength="15.00" lengthAdjust="spacingAndGlyphs" >p = 0.036</text>
<text x="531.85" y="127.60" font-size="5.6" fill="#1a1a1a" text-anchor="middle" textLength="11.70" lengthAdjust="spacingAndGlyphs" stroke="#1a1a1a" stroke-width="0.06">iTreg</text>
<text x="525.70" y="184.40" font-size="4.8" fill="#3157a8" text-anchor="middle" font-weight="bold" font-family='"Liberation Serif", serif' textLength="9.20" lengthAdjust="spacingAndGlyphs" >Low</text>
<text x="525.70" y="189.60" font-size="4.8" fill="#3157a8" text-anchor="middle" font-weight="bold" font-family='"Liberation Serif", serif' textLength="10.00" lengthAdjust="spacingAndGlyphs" >Meth</text>
<text x="539.00" y="184.40" font-size="4.8" fill="#f24a4a" text-anchor="middle" font-weight="bold" font-family='"Liberation Serif", serif' textLength="10.00" lengthAdjust="spacingAndGlyphs" >High</text>
<text x="539.00" y="189.60" font-size="4.8" fill="#f24a4a" text-anchor="middle" font-weight="bold" font-family='"Liberation Serif", serif' textLength="10.00" lengthAdjust="spacingAndGlyphs" >Meth</text>
<text x="362.10" y="209.20" font-size="9.0" fill="#111" text-anchor="middle" font-weight="bold" textLength="5.60" lengthAdjust="spacingAndGlyphs" stroke="#111" stroke-width="0.4">e</text>
<line x1="366.20" y1="231.50" x2="366.20" y2="281.65" stroke="#111" stroke-width="0.9"/>
<line x1="366.20" y1="281.25" x2="544.50" y2="281.25" stroke="#111" stroke-width="0.9"/>
<text x="361.40" y="234.60" font-size="4.6" fill="#222" text-anchor="end" font-weight="bold" >80</text>
<line x1="362.60" y1="233.00" x2="366.20" y2="233.00" stroke="#111" stroke-width="0.6"/>
<text x="361.40" y="246.66" font-size="4.6" fill="#222" text-anchor="end" font-weight="bold" >60</text>
<line x1="362.60" y1="245.06" x2="366.20" y2="245.06" stroke="#111" stroke-width="0.6"/>
<text x="361.40" y="258.73" font-size="4.6" fill="#222" text-anchor="end" font-weight="bold" >40</text>
<line x1="362.60" y1="257.12" x2="366.20" y2="257.12" stroke="#111" stroke-width="0.6"/>
<text x="361.40" y="270.79" font-size="4.6" fill="#222" text-anchor="end" font-weight="bold" >20</text>
<line x1="362.60" y1="269.19" x2="366.20" y2="269.19" stroke="#111" stroke-width="0.6"/>
<text x="361.40" y="282.85" font-size="4.6" fill="#222" text-anchor="end" font-weight="bold" >0</text>
<line x1="362.60" y1="281.25" x2="366.20" y2="281.25" stroke="#111" stroke-width="0.6"/>
<text x="352.60" y="253.75" font-size="5.0" fill="#222" text-anchor="middle" font-weight="bold" textLength="30.00" lengthAdjust="spacingAndGlyphs" transform="rotate(-90 352.60 253.75)" >Patients (%)</text>
<rect x="369.20" y="236.26" width="3.30" height="44.99" fill="#000"/>
<text x="370.85" y="289.10" font-size="4.3" fill="#111" text-anchor="middle" font-weight="bold" >1</text>
<line x1="370.85" y1="281.25" x2="370.85" y2="283.65" stroke="#111" stroke-width="0.6"/>
<rect x="374.65" y="267.74" width="3.30" height="13.51" fill="#000"/>
<text x="376.30" y="289.10" font-size="4.3" fill="#111" text-anchor="middle" font-weight="bold" >2</text>
<line x1="376.30" y1="281.25" x2="376.30" y2="283.65" stroke="#111" stroke-width="0.6"/>
<text x="381.75" y="289.10" font-size="4.3" fill="#111" text-anchor="middle" font-weight="bold" >3</text>
<line x1="381.75" y1="281.25" x2="381.75" y2="283.65" stroke="#111" stroke-width="0.6"/>
<rect x="385.55" y="280.04" width="3.30" height="1.21" fill="#000"/>
<text x="387.20" y="289.10" font-size="4.3" fill="#111" text-anchor="middle" font-weight="bold" >4</text>
<line x1="387.20" y1="281.25" x2="387.20" y2="283.65" stroke="#111" stroke-width="0.6"/>
<text x="392.65" y="289.10" font-size="4.3" fill="#111" text-anchor="middle" font-weight="bold" >5</text>
<line x1="392.65" y1="281.25" x2="392.65" y2="283.65" stroke="#111" stroke-width="0.6"/>
<rect x="396.45" y="280.04" width="3.30" height="1.21" fill="#000"/>
<text x="398.10" y="289.10" font-size="4.3" fill="#111" text-anchor="middle" font-weight="bold" >6</text>
<line x1="398.10" y1="281.25" x2="398.10" y2="283.65" stroke="#111" stroke-width="0.6"/>
<rect x="405.17" y="234.27" width="3.30" height="46.98" fill="#0000f0"/>
<text x="406.82" y="289.10" font-size="4.3" fill="#111" text-anchor="middle" font-weight="bold" >1</text>
<line x1="406.82" y1="281.25" x2="406.82" y2="283.65" stroke="#111" stroke-width="0.6"/>
<rect x="410.62" y="269.97" width="3.30" height="11.28" fill="#0000f0"/>
<text x="412.27" y="289.10" font-size="4.3" fill="#111" text-anchor="middle" font-weight="bold" >2</text>
<line x1="412.27" y1="281.25" x2="412.27" y2="283.65" stroke="#111" stroke-width="0.6"/>
<text x="417.72" y="289.10" font-size="4.3" fill="#111" text-anchor="middle" font-weight="bold" >3</text>
<line x1="417.72" y1="281.25" x2="417.72" y2="283.65" stroke="#111" stroke-width="0.6"/>
<rect x="421.52" y="280.04" width="3.30" height="1.21" fill="#0000f0"/>
<text x="423.17" y="289.10" font-size="4.3" fill="#111" text-anchor="middle" font-weight="bold" >4</text>
<line x1="423.17" y1="281.25" x2="423.17" y2="283.65" stroke="#111" stroke-width="0.6"/>
<text x="428.62" y="289.10" font-size="4.3" fill="#111" text-anchor="middle" font-weight="bold" >5</text>
<line x1="428.62" y1="281.25" x2="428.62" y2="283.65" stroke="#111" stroke-width="0.6"/>
<text x="434.07" y="289.10" font-size="4.3" fill="#111" text-anchor="middle" font-weight="bold" >6</text>
<line x1="434.07" y1="281.25" x2="434.07" y2="283.65" stroke="#111" stroke-width="0.6"/>
<rect x="441.14" y="245.00" width="3.30" height="36.25" fill="#f00000"/>
<text x="442.79" y="289.10" font-size="4.3" fill="#111" text-anchor="middle" font-weight="bold" >1</text>
<line x1="442.79" y1="281.25" x2="442.79" y2="283.65" stroke="#111" stroke-width="0.6"/>
<rect x="446.59" y="256.22" width="3.30" height="25.03" fill="#f00000"/>
<text x="448.24" y="289.10" font-size="4.3" fill="#111" text-anchor="middle" font-weight="bold" >2</text>
<line x1="448.24" y1="281.25" x2="448.24" y2="283.65" stroke="#111" stroke-width="0.6"/>
<text x="453.69" y="289.10" font-size="4.3" fill="#111" text-anchor="middle" font-weight="bold" >3</text>
<line x1="453.69" y1="281.25" x2="453.69" y2="283.65" stroke="#111" stroke-width="0.6"/>
<text x="459.14" y="289.10" font-size="4.3" fill="#111" text-anchor="middle" font-weight="bold" >4</text>
<line x1="459.14" y1="281.25" x2="459.14" y2="283.65" stroke="#111" stroke-width="0.6"/>
<text x="464.59" y="289.10" font-size="4.3" fill="#111" text-anchor="middle" font-weight="bold" >5</text>
<line x1="464.59" y1="281.25" x2="464.59" y2="283.65" stroke="#111" stroke-width="0.6"/>
<text x="470.04" y="289.10" font-size="4.3" fill="#111" text-anchor="middle" font-weight="bold" >6</text>
<line x1="470.04" y1="281.25" x2="470.04" y2="283.65" stroke="#111" stroke-width="0.6"/>
<rect x="477.11" y="235.47" width="3.30" height="45.78" fill="#00cc00"/>
<text x="478.76" y="289.10" font-size="4.3" fill="#111" text-anchor="middle" font-weight="bold" >1</text>
<line x1="478.76" y1="281.25" x2="478.76" y2="283.65" stroke="#111" stroke-width="0.6"/>
<rect x="482.56" y="268.77" width="3.30" height="12.48" fill="#00cc00"/>
<text x="484.21" y="289.10" font-size="4.3" fill="#111" text-anchor="middle" font-weight="bold" >2</text>
<line x1="484.21" y1="281.25" x2="484.21" y2="283.65" stroke="#111" stroke-width="0.6"/>
<text x="489.66" y="289.10" font-size="4.3" fill="#111" text-anchor="middle" font-weight="bold" >3</text>
<line x1="489.66" y1="281.25" x2="489.66" y2="283.65" stroke="#111" stroke-width="0.6"/>
<rect x="493.46" y="280.04" width="3.30" height="1.21" fill="#00cc00"/>
<text x="495.11" y="289.10" font-size="4.3" fill="#111" text-anchor="middle" font-weight="bold" >4</text>
<line x1="495.11" y1="281.25" x2="495.11" y2="283.65" stroke="#111" stroke-width="0.6"/>
<text x="500.56" y="289.10" font-size="4.3" fill="#111" text-anchor="middle" font-weight="bold" >5</text>
<line x1="500.56" y1="281.25" x2="500.56" y2="283.65" stroke="#111" stroke-width="0.6"/>
<rect x="504.36" y="280.04" width="3.30" height="1.21" fill="#00cc00"/>
<text x="506.01" y="289.10" font-size="4.3" fill="#111" text-anchor="middle" font-weight="bold" >6</text>
<line x1="506.01" y1="281.25" x2="506.01" y2="283.65" stroke="#111" stroke-width="0.6"/>
<rect x="513.08" y="238.25" width="3.30" height="43.00" fill="#ff8c00"/>
<text x="514.73" y="289.10" font-size="4.3" fill="#111" text-anchor="middle" font-weight="bold" >1</text>
<line x1="514.73" y1="281.25" x2="514.73" y2="283.65" stroke="#111" stroke-width="0.6"/>
<rect x="518.53" y="262.98" width="3.30" height="18.27" fill="#ff8c00"/>
<text x="520.18" y="289.10" font-size="4.3" fill="#111" text-anchor="middle" font-weight="bold" >2</text>
<line x1="520.18" y1="281.25" x2="520.18" y2="283.65" stroke="#111" stroke-width="0.6"/>
<text x="525.63" y="289.10" font-size="4.3" fill="#111" text-anchor="middle" font-weight="bold" >3</text>
<line x1="525.63" y1="281.25" x2="525.63" y2="283.65" stroke="#111" stroke-width="0.6"/>
<text x="531.08" y="289.10" font-size="4.3" fill="#111" text-anchor="middle" font-weight="bold" >4</text>
<line x1="531.08" y1="281.25" x2="531.08" y2="283.65" stroke="#111" stroke-width="0.6"/>
<text x="536.53" y="289.10" font-size="4.3" fill="#111" text-anchor="middle" font-weight="bold" >5</text>
<line x1="536.53" y1="281.25" x2="536.53" y2="283.65" stroke="#111" stroke-width="0.6"/>
<text x="541.98" y="289.10" font-size="4.3" fill="#111" text-anchor="middle" font-weight="bold" >6</text>
<line x1="541.98" y1="281.25" x2="541.98" y2="283.65" stroke="#111" stroke-width="0.6"/>
<text x="456.35" y="295.50" font-size="5.6" fill="#1a1a1a" text-anchor="middle" font-weight="bold" textLength="43.70" lengthAdjust="spacingAndGlyphs" stroke="#1a1a1a" stroke-width="0.2">Immune subtypes</text>
<text x="381.50" y="224.90" font-size="4.6" fill="#111" text-anchor="middle" font-weight="bold" textLength="24.00" lengthAdjust="spacingAndGlyphs" stroke="#111" stroke-width="0.12">All patients</text>
<text x="381.55" y="230.30" font-size="4.6" fill="#111" text-anchor="middle" font-weight="bold" textLength="15.30" lengthAdjust="spacingAndGlyphs" stroke="#111" stroke-width="0.12">n = 108</text>
<text x="417.00" y="219.30" font-size="4.6" fill="#1010e0" text-anchor="middle" font-weight="bold" font-style="italic" textLength="15.00" lengthAdjust="spacingAndGlyphs" stroke="#1010e0" stroke-width="0.12">CDH17</text>
<text x="416.90" y="225.30" font-size="4.6" fill="#1010e0" text-anchor="middle" font-weight="bold" textLength="20.20" lengthAdjust="spacingAndGlyphs" stroke="#1010e0" stroke-width="0.12">'low met'</text>
<text x="417.00" y="230.50" font-size="4.6" fill="#1010e0" text-anchor="middle" font-weight="bold" textLength="15.00" lengthAdjust="spacingAndGlyphs" stroke="#1010e0" stroke-width="0.12">n = 81</text>
<text x="453.55" y="219.30" font-size="4.6" fill="#ee1818" text-anchor="middle" font-weight="bold" font-style="italic" textLength="15.50" lengthAdjust="spacingAndGlyphs" stroke="#ee1818" stroke-width="0.12">CDH17</text>
<text x="453.80" y="225.30" font-size="4.6" fill="#ee1818" text-anchor="middle" font-weight="bold" textLength="23.20" lengthAdjust="spacingAndGlyphs" stroke="#ee1818" stroke-width="0.12">'high met'</text>
<text x="453.45" y="230.50" font-size="4.6" fill="#ee1818" text-anchor="middle" font-weight="bold" textLength="13.10" lengthAdjust="spacingAndGlyphs" stroke="#ee1818" stroke-width="0.12">n = 27</text>
<text x="489.20" y="219.30" font-size="4.6" fill="#10c810" text-anchor="middle" font-weight="bold" font-style="italic" textLength="12.40" lengthAdjust="spacingAndGlyphs" stroke="#10c810" stroke-width="0.12">LRP2</text>
<text x="489.25" y="225.30" font-size="4.6" fill="#10c810" text-anchor="middle" font-weight="bold" textLength="20.50" lengthAdjust="spacingAndGlyphs" stroke="#10c810" stroke-width="0.12">'low met'</text>
<text x="488.55" y="230.50" font-size="4.6" fill="#10c810" text-anchor="middle" font-weight="bold" textLength="13.70" lengthAdjust="spacingAndGlyphs" stroke="#10c810" stroke-width="0.12">n = 81</text>
<text x="526.00" y="219.30" font-size="4.6" fill="#ff8c22" text-anchor="middle" font-weight="bold" font-style="italic" textLength="12.00" lengthAdjust="spacingAndGlyphs" stroke="#ff8c22" stroke-width="0.12">LRP2</text>
<text x="525.10" y="225.30" font-size="4.6" fill="#ff8c22" text-anchor="middle" font-weight="bold" textLength="22.20" lengthAdjust="spacingAndGlyphs" stroke="#ff8c22" stroke-width="0.12">'high met'</text>
<text x="525.25" y="230.50" font-size="4.6" fill="#ff8c22" text-anchor="middle" font-weight="bold" textLength="13.50" lengthAdjust="spacingAndGlyphs" stroke="#ff8c22" stroke-width="0.12">n = 27</text>
</svg></body></html>
